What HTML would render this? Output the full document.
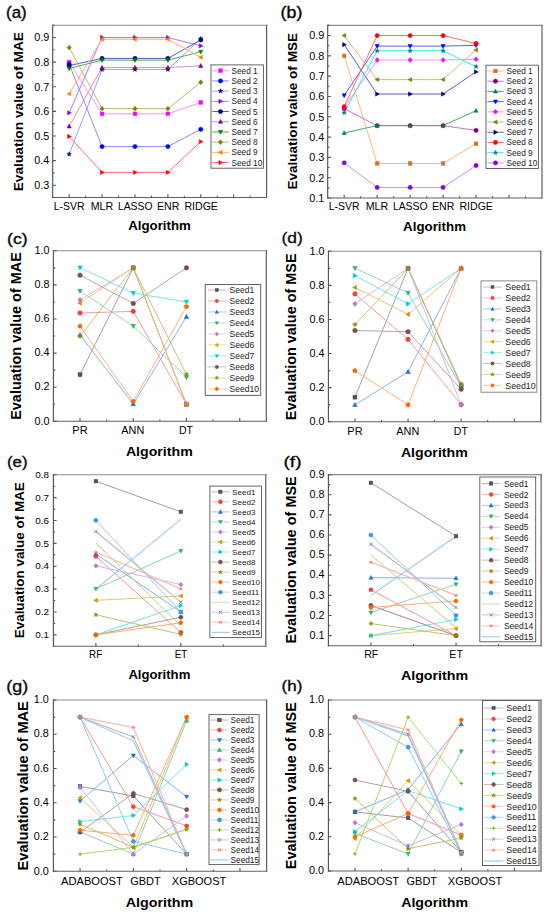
<!DOCTYPE html>
<html><head><meta charset="utf-8"><title>Evaluation values</title>
<style>
html,body{margin:0;padding:0;background:#fff;}
body{width:550px;height:918px;overflow:hidden;}
svg{display:block;font-family:"Liberation Sans", sans-serif;}
</style></head>
<body>
<svg width="550" height="918" viewBox="0 0 550 918">
<rect width="550" height="918" fill="#fff"/>
<polyline points="69.15,62.12 102.06,113.81 134.97,113.81 167.88,113.81 200.78,102.49" fill="none" stroke="#ff90ff" stroke-width="1" stroke-opacity="1"/>
<polyline points="69.15,64.09 102.06,146.55 134.97,146.55 167.88,146.55 200.78,129.32" fill="none" stroke="#8c8cff" stroke-width="1" stroke-opacity="1"/>
<polyline points="69.15,154.18 102.06,69.51 134.97,69.51 167.88,69.51 200.78,38.74" fill="none" stroke="#a0a0ff" stroke-width="1" stroke-opacity="1"/>
<polyline points="69.15,112.83 102.06,37.51 134.97,37.51 167.88,37.51 200.78,45.88" fill="none" stroke="#b878ff" stroke-width="1" stroke-opacity="1"/>
<polyline points="69.15,65.57 102.06,58.43 134.97,58.43 167.88,58.43 200.78,39.97" fill="none" stroke="#5858c8" stroke-width="1" stroke-opacity="1"/>
<polyline points="69.15,126.36 102.06,67.54 134.97,67.54 167.88,67.54 200.78,65.81" fill="none" stroke="#d090d0" stroke-width="1" stroke-opacity="1"/>
<polyline points="69.15,68.52 102.06,60.15 134.97,60.15 167.88,60.15 200.78,51.78" fill="none" stroke="#40b060" stroke-width="1" stroke-opacity="1"/>
<polyline points="69.15,47.6 102.06,108.64 134.97,108.64 167.88,108.64 200.78,82.31" fill="none" stroke="#b8b870" stroke-width="1" stroke-opacity="1"/>
<polyline points="69.15,93.87 102.06,39.23 134.97,39.23 167.88,39.23 200.78,57.2" fill="none" stroke="#ffb060" stroke-width="1" stroke-opacity="1"/>
<polyline points="69.15,136.46 102.06,172.39 134.97,172.39 167.88,172.39 200.78,141.63" fill="none" stroke="#ff7070" stroke-width="1" stroke-opacity="1"/>
<rect x="67.33" y="60.29" width="3.65" height="3.65" fill="#ff00ff" stroke="#ff00ff" stroke-width="0.5"/>
<rect x="100.23" y="111.98" width="3.65" height="3.65" fill="#ff00ff" stroke="#ff00ff" stroke-width="0.5"/>
<rect x="133.14" y="111.98" width="3.65" height="3.65" fill="#ff00ff" stroke="#ff00ff" stroke-width="0.5"/>
<rect x="166.05" y="111.98" width="3.65" height="3.65" fill="#ff00ff" stroke="#ff00ff" stroke-width="0.5"/>
<rect x="198.96" y="100.66" width="3.65" height="3.65" fill="#ff00ff" stroke="#ff00ff" stroke-width="0.5"/>
<circle cx="69.15" cy="64.09" r="2.15" fill="#0000ff" stroke="#0000ff" stroke-width="0.5"/>
<circle cx="102.06" cy="146.55" r="2.15" fill="#0000ff" stroke="#0000ff" stroke-width="0.5"/>
<circle cx="134.97" cy="146.55" r="2.15" fill="#0000ff" stroke="#0000ff" stroke-width="0.5"/>
<circle cx="167.88" cy="146.55" r="2.15" fill="#0000ff" stroke="#0000ff" stroke-width="0.5"/>
<circle cx="200.78" cy="129.32" r="2.15" fill="#0000ff" stroke="#0000ff" stroke-width="0.5"/>
<polygon points="69.15,151.81 69.72,153.4 71.4,153.45 70.07,154.48 70.54,156.09 69.15,155.15 67.76,156.09 68.23,154.48 66.9,153.45 68.59,153.4" fill="#000090" stroke="#000090" stroke-width="0.5"/>
<polygon points="102.06,67.14 102.63,68.72 104.31,68.77 102.98,69.8 103.45,71.42 102.06,70.47 100.67,71.42 101.14,69.8 99.81,68.77 101.49,68.72" fill="#000090" stroke="#000090" stroke-width="0.5"/>
<polygon points="134.97,67.14 135.54,68.72 137.22,68.77 135.89,69.8 136.36,71.42 134.97,70.47 133.58,71.42 134.05,69.8 132.72,68.77 134.4,68.72" fill="#000090" stroke="#000090" stroke-width="0.5"/>
<polygon points="167.88,67.14 168.45,68.72 170.13,68.77 168.8,69.8 169.27,71.42 167.88,70.47 166.49,71.42 166.96,69.8 165.63,68.77 167.31,68.72" fill="#000090" stroke="#000090" stroke-width="0.5"/>
<polygon points="200.78,36.37 201.35,37.96 203.03,38.01 201.7,39.04 202.17,40.65 200.78,39.71 199.39,40.65 199.86,39.04 198.54,38.01 200.22,37.96" fill="#000090" stroke="#000090" stroke-width="0.5"/>
<polygon points="71.41,112.83 67.54,110.68 67.54,114.98" fill="#8000ff" stroke="#8000ff" stroke-width="0.5"/>
<polygon points="104.32,37.51 100.45,35.36 100.45,39.66" fill="#8000ff" stroke="#8000ff" stroke-width="0.5"/>
<polygon points="137.23,37.51 133.36,35.36 133.36,39.66" fill="#8000ff" stroke="#8000ff" stroke-width="0.5"/>
<polygon points="170.13,37.51 166.26,35.36 166.26,39.66" fill="#8000ff" stroke="#8000ff" stroke-width="0.5"/>
<polygon points="203.04,45.88 199.17,43.73 199.17,48.03" fill="#8000ff" stroke="#8000ff" stroke-width="0.5"/>
<circle cx="69.15" cy="65.57" r="2.15" fill="#000080" stroke="#000080" stroke-width="0.5"/>
<circle cx="102.06" cy="58.43" r="2.15" fill="#000080" stroke="#000080" stroke-width="0.5"/>
<circle cx="134.97" cy="58.43" r="2.15" fill="#000080" stroke="#000080" stroke-width="0.5"/>
<circle cx="167.88" cy="58.43" r="2.15" fill="#000080" stroke="#000080" stroke-width="0.5"/>
<circle cx="200.78" cy="39.97" r="2.15" fill="#000080" stroke="#000080" stroke-width="0.5"/>
<polygon points="69.15,124.11 71.3,127.98 67,127.98" fill="#800080" stroke="#800080" stroke-width="0.5"/>
<polygon points="102.06,65.28 104.21,69.15 99.91,69.15" fill="#800080" stroke="#800080" stroke-width="0.5"/>
<polygon points="134.97,65.28 137.12,69.15 132.82,69.15" fill="#800080" stroke="#800080" stroke-width="0.5"/>
<polygon points="167.88,65.28 170.03,69.15 165.73,69.15" fill="#800080" stroke="#800080" stroke-width="0.5"/>
<polygon points="200.78,63.56 202.93,67.43 198.63,67.43" fill="#800080" stroke="#800080" stroke-width="0.5"/>
<polygon points="69.15,70.78 71.3,66.91 67,66.91" fill="#008000" stroke="#008000" stroke-width="0.5"/>
<polygon points="102.06,62.41 104.21,58.54 99.91,58.54" fill="#008000" stroke="#008000" stroke-width="0.5"/>
<polygon points="134.97,62.41 137.12,58.54 132.82,58.54" fill="#008000" stroke="#008000" stroke-width="0.5"/>
<polygon points="167.88,62.41 170.03,58.54 165.73,58.54" fill="#008000" stroke="#008000" stroke-width="0.5"/>
<polygon points="200.78,54.04 202.93,50.17 198.63,50.17" fill="#008000" stroke="#008000" stroke-width="0.5"/>
<polygon points="69.15,45.13 71.3,47.6 69.15,50.07 67,47.6" fill="#808000" stroke="#808000" stroke-width="0.5"/>
<polygon points="102.06,106.17 104.21,108.64 102.06,111.11 99.91,108.64" fill="#808000" stroke="#808000" stroke-width="0.5"/>
<polygon points="134.97,106.17 137.12,108.64 134.97,111.11 132.82,108.64" fill="#808000" stroke="#808000" stroke-width="0.5"/>
<polygon points="167.88,106.17 170.03,108.64 167.88,111.11 165.73,108.64" fill="#808000" stroke="#808000" stroke-width="0.5"/>
<polygon points="200.78,79.83 202.93,82.31 200.78,84.78 198.63,82.31" fill="#808000" stroke="#808000" stroke-width="0.5"/>
<polygon points="66.9,93.87 70.77,91.72 70.77,96.02" fill="#ff8000" stroke="#ff8000" stroke-width="0.5"/>
<polygon points="99.8,39.23 103.67,37.08 103.67,41.38" fill="#ff8000" stroke="#ff8000" stroke-width="0.5"/>
<polygon points="132.71,39.23 136.58,37.08 136.58,41.38" fill="#ff8000" stroke="#ff8000" stroke-width="0.5"/>
<polygon points="165.62,39.23 169.49,37.08 169.49,41.38" fill="#ff8000" stroke="#ff8000" stroke-width="0.5"/>
<polygon points="198.53,57.2 202.4,55.05 202.4,59.35" fill="#ff8000" stroke="#ff8000" stroke-width="0.5"/>
<polygon points="71.41,136.46 67.54,134.31 67.54,138.61" fill="#ff0000" stroke="#ff0000" stroke-width="0.5"/>
<polygon points="104.32,172.39 100.45,170.24 100.45,174.54" fill="#ff0000" stroke="#ff0000" stroke-width="0.5"/>
<polygon points="137.23,172.39 133.36,170.24 133.36,174.54" fill="#ff0000" stroke="#ff0000" stroke-width="0.5"/>
<polygon points="170.13,172.39 166.26,170.24 166.26,174.54" fill="#ff0000" stroke="#ff0000" stroke-width="0.5"/>
<polygon points="203.04,141.63 199.17,139.48 199.17,143.78" fill="#ff0000" stroke="#ff0000" stroke-width="0.5"/>
<path d="M52.15 25.2H267.15" stroke="#8c8c8c" stroke-width="1.1"/>
<path d="M266.6 24.65V198.05" stroke="#505050" stroke-width="1.1"/>
<path d="M52.15 197.5H267.15" stroke="#606060" stroke-width="1.1"/>
<path d="M52.7 24.65V198.05" stroke="#4c4c4c" stroke-width="1.1"/>
<path d="M52.7 185.19h3.2M52.7 160.58h3.2M52.7 135.96h3.2M52.7 111.35h3.2M52.7 86.74h3.2M52.7 62.12h3.2M52.7 37.51h3.2M52.7 172.89h1.8M52.7 148.27h1.8M52.7 123.66h1.8M52.7 99.04h1.8M52.7 74.43h1.8M52.7 49.81h1.8M52.7 25.2h1.8M52.7 197.5h1.8M69.15 197.5v-3.2M102.06 197.5v-3.2M134.97 197.5v-3.2M167.88 197.5v-3.2M200.78 197.5v-3.2M233.69 197.5v-3.2M85.61 197.5v-1.8M118.52 197.5v-1.8M151.42 197.5v-1.8M184.33 197.5v-1.8M217.24 197.5v-1.8M250.15 197.5v-1.8" stroke="#555555" stroke-width="1.1" fill="none"/>
<text x="49.2" y="189.08" font-size="10.8" text-anchor="end">0.3</text>
<text x="49.2" y="164.47" font-size="10.8" text-anchor="end">0.4</text>
<text x="49.2" y="139.85" font-size="10.8" text-anchor="end">0.5</text>
<text x="49.2" y="115.24" font-size="10.8" text-anchor="end">0.6</text>
<text x="49.2" y="90.62" font-size="10.8" text-anchor="end">0.7</text>
<text x="49.2" y="66.01" font-size="10.8" text-anchor="end">0.8</text>
<text x="49.2" y="41.4" font-size="10.8" text-anchor="end">0.9</text>
<text x="69.2" y="209.9" font-size="10.6" text-anchor="middle" textLength="30.8" lengthAdjust="spacingAndGlyphs">L-SVR</text>
<text x="102" y="209.9" font-size="10.6" text-anchor="middle" textLength="22.6" lengthAdjust="spacingAndGlyphs">MLR</text>
<text x="135.2" y="209.9" font-size="10.6" text-anchor="middle" textLength="34.5" lengthAdjust="spacingAndGlyphs">LASSO</text>
<text x="168.2" y="209.9" font-size="10.6" text-anchor="middle" textLength="22.4" lengthAdjust="spacingAndGlyphs">ENR</text>
<text x="201.2" y="209.9" font-size="10.6" text-anchor="middle" textLength="33.4" lengthAdjust="spacingAndGlyphs">RIDGE</text>
<text x="159.55" y="230.3" font-size="13.3" text-anchor="middle" font-weight="bold" textLength="62.7" lengthAdjust="spacingAndGlyphs">Algorithm</text>
<text x="22.6" y="111.65" font-size="13.3" text-anchor="middle" font-weight="bold" textLength="159.3" lengthAdjust="spacingAndGlyphs" transform="rotate(-90 22.6 111.65)">Evaluation value of MAE</text>
<text x="6.1" y="18.1" font-size="15.9" stroke="#1a1a1a" stroke-width="0.4" textLength="20.6" lengthAdjust="spacingAndGlyphs">(a)</text>
<rect x="211" y="64.9" width="52.4" height="103.3" fill="#fff" stroke="#555" stroke-width="0.9"/>
<line x1="212.3" y1="70.7" x2="228.8" y2="70.7" stroke="#ff90ff" stroke-width="1" stroke-opacity="1"/>
<rect x="218.67" y="68.87" width="3.65" height="3.65" fill="#ff00ff" stroke="#ff00ff" stroke-width="0.5"/>
<text x="231.4" y="73.69" font-size="8.3" fill="#222">Seed 1</text>
<line x1="212.3" y1="80.91" x2="228.8" y2="80.91" stroke="#8c8cff" stroke-width="1" stroke-opacity="1"/>
<circle cx="220.5" cy="80.91" r="2.15" fill="#0000ff" stroke="#0000ff" stroke-width="0.5"/>
<text x="231.4" y="83.9" font-size="8.3" fill="#222">Seed 2</text>
<line x1="212.3" y1="91.12" x2="228.8" y2="91.12" stroke="#a0a0ff" stroke-width="1" stroke-opacity="1"/>
<polygon points="220.5,88.76 221.07,90.34 222.75,90.39 221.42,91.42 221.89,93.03 220.5,92.09 219.11,93.03 219.58,91.42 218.25,90.39 219.93,90.34" fill="#000090" stroke="#000090" stroke-width="0.5"/>
<text x="231.4" y="94.11" font-size="8.3" fill="#222">Seed 3</text>
<line x1="212.3" y1="101.33" x2="228.8" y2="101.33" stroke="#b878ff" stroke-width="1" stroke-opacity="1"/>
<polygon points="222.76,101.33 218.89,99.18 218.89,103.48" fill="#8000ff" stroke="#8000ff" stroke-width="0.5"/>
<text x="231.4" y="104.32" font-size="8.3" fill="#222">Seed 4</text>
<line x1="212.3" y1="111.54" x2="228.8" y2="111.54" stroke="#5858c8" stroke-width="1" stroke-opacity="1"/>
<circle cx="220.5" cy="111.54" r="2.15" fill="#000080" stroke="#000080" stroke-width="0.5"/>
<text x="231.4" y="114.53" font-size="8.3" fill="#222">Seed 5</text>
<line x1="212.3" y1="121.75" x2="228.8" y2="121.75" stroke="#d090d0" stroke-width="1" stroke-opacity="1"/>
<polygon points="220.5,119.49 222.65,123.36 218.35,123.36" fill="#800080" stroke="#800080" stroke-width="0.5"/>
<text x="231.4" y="124.74" font-size="8.3" fill="#222">Seed 6</text>
<line x1="212.3" y1="131.96" x2="228.8" y2="131.96" stroke="#40b060" stroke-width="1" stroke-opacity="1"/>
<polygon points="220.5,134.22 222.65,130.35 218.35,130.35" fill="#008000" stroke="#008000" stroke-width="0.5"/>
<text x="231.4" y="134.95" font-size="8.3" fill="#222">Seed 7</text>
<line x1="212.3" y1="142.17" x2="228.8" y2="142.17" stroke="#b8b870" stroke-width="1" stroke-opacity="1"/>
<polygon points="220.5,139.7 222.65,142.17 220.5,144.64 218.35,142.17" fill="#808000" stroke="#808000" stroke-width="0.5"/>
<text x="231.4" y="145.16" font-size="8.3" fill="#222">Seed 8</text>
<line x1="212.3" y1="152.38" x2="228.8" y2="152.38" stroke="#ffb060" stroke-width="1" stroke-opacity="1"/>
<polygon points="218.24,152.38 222.11,150.23 222.11,154.53" fill="#ff8000" stroke="#ff8000" stroke-width="0.5"/>
<text x="231.4" y="155.37" font-size="8.3" fill="#222">Seed 9</text>
<line x1="212.3" y1="162.59" x2="228.8" y2="162.59" stroke="#ff7070" stroke-width="1" stroke-opacity="1"/>
<polygon points="222.76,162.59 218.89,160.44 218.89,164.74" fill="#ff0000" stroke="#ff0000" stroke-width="0.5"/>
<text x="231.4" y="165.58" font-size="8.3" fill="#222">Seed 10</text>
<polyline points="344.18,55.86 377.15,163.48 410.12,163.48 443.09,163.48 476.06,143.78" fill="none" stroke="#ffbb80" stroke-width="1" stroke-opacity="1"/>
<polyline points="344.18,108.65 377.15,125.71 410.12,125.71 443.09,125.71 476.06,130.38" fill="none" stroke="#d070d0" stroke-width="1" stroke-opacity="1"/>
<polyline points="344.18,133.02 377.15,125.51 410.12,125.51 443.09,125.51 476.06,110.68" fill="none" stroke="#40b070" stroke-width="1" stroke-opacity="1"/>
<polyline points="344.18,95.46 377.15,46.11 410.12,46.11 443.09,46.11 476.06,45.3" fill="none" stroke="#6060ff" stroke-width="1" stroke-opacity="1"/>
<polyline points="344.18,107.64 377.15,59.92 410.12,59.92 443.09,59.92 476.06,59.31" fill="none" stroke="#ff90ff" stroke-width="1" stroke-opacity="1"/>
<polyline points="344.18,35.55 377.15,79.62 410.12,79.62 443.09,79.62 476.06,49.97" fill="none" stroke="#c0c080" stroke-width="1" stroke-opacity="1"/>
<polyline points="344.18,44.69 377.15,94.03 410.12,94.03 443.09,94.03 476.06,71.9" fill="none" stroke="#6060b8" stroke-width="1" stroke-opacity="1"/>
<polyline points="344.18,106.62 377.15,35.55 410.12,35.55 443.09,35.55 476.06,43.47" fill="none" stroke="#ff7070" stroke-width="1" stroke-opacity="1"/>
<polyline points="344.18,112.72 377.15,50.78 410.12,50.78 443.09,50.78 476.06,66.62" fill="none" stroke="#30f0f0" stroke-width="1" stroke-opacity="1"/>
<polyline points="344.18,162.87 377.15,187.44 410.12,187.44 443.09,187.44 476.06,165.51" fill="none" stroke="#c890ff" stroke-width="1" stroke-opacity="1"/>
<rect x="342.36" y="54.03" width="3.65" height="3.65" fill="#e07020" stroke="#e07020" stroke-width="0.5"/>
<rect x="375.33" y="161.65" width="3.65" height="3.65" fill="#e07020" stroke="#e07020" stroke-width="0.5"/>
<rect x="408.3" y="161.65" width="3.65" height="3.65" fill="#e07020" stroke="#e07020" stroke-width="0.5"/>
<rect x="441.26" y="161.65" width="3.65" height="3.65" fill="#e07020" stroke="#e07020" stroke-width="0.5"/>
<rect x="474.23" y="141.96" width="3.65" height="3.65" fill="#e07020" stroke="#e07020" stroke-width="0.5"/>
<circle cx="344.18" cy="108.65" r="2.15" fill="#800080" stroke="#800080" stroke-width="0.5"/>
<circle cx="377.15" cy="125.71" r="2.15" fill="#800080" stroke="#800080" stroke-width="0.5"/>
<circle cx="410.12" cy="125.71" r="2.15" fill="#800080" stroke="#800080" stroke-width="0.5"/>
<circle cx="443.09" cy="125.71" r="2.15" fill="#800080" stroke="#800080" stroke-width="0.5"/>
<circle cx="476.06" cy="130.38" r="2.15" fill="#800080" stroke="#800080" stroke-width="0.5"/>
<polygon points="344.18,130.76 346.33,134.63 342.03,134.63" fill="#008040" stroke="#008040" stroke-width="0.5"/>
<polygon points="377.15,123.25 379.3,127.12 375,127.12" fill="#008040" stroke="#008040" stroke-width="0.5"/>
<polygon points="410.12,123.25 412.27,127.12 407.97,127.12" fill="#008040" stroke="#008040" stroke-width="0.5"/>
<polygon points="443.09,123.25 445.24,127.12 440.94,127.12" fill="#008040" stroke="#008040" stroke-width="0.5"/>
<polygon points="476.06,108.43 478.21,112.3 473.91,112.3" fill="#008040" stroke="#008040" stroke-width="0.5"/>
<polygon points="344.18,97.71 346.33,93.84 342.03,93.84" fill="#0000ff" stroke="#0000ff" stroke-width="0.5"/>
<polygon points="377.15,48.37 379.3,44.5 375,44.5" fill="#0000ff" stroke="#0000ff" stroke-width="0.5"/>
<polygon points="410.12,48.37 412.27,44.5 407.97,44.5" fill="#0000ff" stroke="#0000ff" stroke-width="0.5"/>
<polygon points="443.09,48.37 445.24,44.5 440.94,44.5" fill="#0000ff" stroke="#0000ff" stroke-width="0.5"/>
<polygon points="476.06,47.56 478.21,43.69 473.91,43.69" fill="#0000ff" stroke="#0000ff" stroke-width="0.5"/>
<polygon points="344.18,105.17 346.33,107.64 344.18,110.11 342.03,107.64" fill="#ff00ff" stroke="#ff00ff" stroke-width="0.5"/>
<polygon points="377.15,57.45 379.3,59.92 377.15,62.39 375,59.92" fill="#ff00ff" stroke="#ff00ff" stroke-width="0.5"/>
<polygon points="410.12,57.45 412.27,59.92 410.12,62.39 407.97,59.92" fill="#ff00ff" stroke="#ff00ff" stroke-width="0.5"/>
<polygon points="443.09,57.45 445.24,59.92 443.09,62.39 440.94,59.92" fill="#ff00ff" stroke="#ff00ff" stroke-width="0.5"/>
<polygon points="476.06,56.84 478.21,59.31 476.06,61.78 473.91,59.31" fill="#ff00ff" stroke="#ff00ff" stroke-width="0.5"/>
<polygon points="341.93,35.55 345.8,33.4 345.8,37.7" fill="#808000" stroke="#808000" stroke-width="0.5"/>
<polygon points="374.9,79.62 378.77,77.47 378.77,81.77" fill="#808000" stroke="#808000" stroke-width="0.5"/>
<polygon points="407.87,79.62 411.74,77.47 411.74,81.77" fill="#808000" stroke="#808000" stroke-width="0.5"/>
<polygon points="440.83,79.62 444.7,77.47 444.7,81.77" fill="#808000" stroke="#808000" stroke-width="0.5"/>
<polygon points="473.8,49.97 477.67,47.82 477.67,52.12" fill="#808000" stroke="#808000" stroke-width="0.5"/>
<polygon points="346.44,44.69 342.57,42.54 342.57,46.84" fill="#000080" stroke="#000080" stroke-width="0.5"/>
<polygon points="379.41,94.03 375.54,91.88 375.54,96.18" fill="#000080" stroke="#000080" stroke-width="0.5"/>
<polygon points="412.38,94.03 408.51,91.88 408.51,96.18" fill="#000080" stroke="#000080" stroke-width="0.5"/>
<polygon points="445.35,94.03 441.48,91.88 441.48,96.18" fill="#000080" stroke="#000080" stroke-width="0.5"/>
<polygon points="478.32,71.9 474.45,69.75 474.45,74.05" fill="#000080" stroke="#000080" stroke-width="0.5"/>
<circle cx="344.18" cy="106.62" r="2.15" fill="#ff0000" stroke="#ff0000" stroke-width="0.5"/>
<circle cx="377.15" cy="35.55" r="2.15" fill="#ff0000" stroke="#ff0000" stroke-width="0.5"/>
<circle cx="410.12" cy="35.55" r="2.15" fill="#ff0000" stroke="#ff0000" stroke-width="0.5"/>
<circle cx="443.09" cy="35.55" r="2.15" fill="#ff0000" stroke="#ff0000" stroke-width="0.5"/>
<circle cx="476.06" cy="43.47" r="2.15" fill="#ff0000" stroke="#ff0000" stroke-width="0.5"/>
<polygon points="344.18,110.35 344.75,111.93 346.43,111.98 345.1,113.01 345.57,114.63 344.18,113.68 342.79,114.63 343.26,113.01 341.94,111.98 343.62,111.93" fill="#008080" stroke="#008080" stroke-width="0.5"/>
<polygon points="377.15,48.42 377.72,50 379.4,50.05 378.07,51.08 378.54,52.7 377.15,51.75 375.76,52.7 376.23,51.08 374.9,50.05 376.59,50" fill="#008080" stroke="#008080" stroke-width="0.5"/>
<polygon points="410.12,48.42 410.69,50 412.37,50.05 411.04,51.08 411.51,52.7 410.12,51.75 408.73,52.7 409.2,51.08 407.87,50.05 409.55,50" fill="#008080" stroke="#008080" stroke-width="0.5"/>
<polygon points="443.09,48.42 443.66,50 445.34,50.05 444.01,51.08 444.48,52.7 443.09,51.75 441.7,52.7 442.17,51.08 440.84,50.05 442.52,50" fill="#008080" stroke="#008080" stroke-width="0.5"/>
<polygon points="476.06,64.26 476.63,65.84 478.31,65.89 476.98,66.92 477.45,68.53 476.06,67.59 474.67,68.53 475.14,66.92 473.81,65.89 475.49,65.84" fill="#008080" stroke="#008080" stroke-width="0.5"/>
<circle cx="344.18" cy="162.87" r="2.15" fill="#8000ff" stroke="#8000ff" stroke-width="0.5"/>
<circle cx="377.15" cy="187.44" r="2.15" fill="#8000ff" stroke="#8000ff" stroke-width="0.5"/>
<circle cx="410.12" cy="187.44" r="2.15" fill="#8000ff" stroke="#8000ff" stroke-width="0.5"/>
<circle cx="443.09" cy="187.44" r="2.15" fill="#8000ff" stroke="#8000ff" stroke-width="0.5"/>
<circle cx="476.06" cy="165.51" r="2.15" fill="#8000ff" stroke="#8000ff" stroke-width="0.5"/>
<path d="M327.15 25.4H542.55" stroke="#8c8c8c" stroke-width="1.1"/>
<path d="M542 24.85V198.55" stroke="#505050" stroke-width="1.1"/>
<path d="M327.15 198H542.55" stroke="#606060" stroke-width="1.1"/>
<path d="M327.7 24.85V198.55" stroke="#4c4c4c" stroke-width="1.1"/>
<path d="M327.7 198h3.2M327.7 177.69h3.2M327.7 157.39h3.2M327.7 137.08h3.2M327.7 116.78h3.2M327.7 96.47h3.2M327.7 76.16h3.2M327.7 55.86h3.2M327.7 35.55h3.2M327.7 187.85h1.8M327.7 167.54h1.8M327.7 147.24h1.8M327.7 126.93h1.8M327.7 106.62h1.8M327.7 86.32h1.8M327.7 66.01h1.8M327.7 45.71h1.8M327.7 25.4h1.8M344.18 198v-3.2M377.15 198v-3.2M410.12 198v-3.2M443.09 198v-3.2M476.06 198v-3.2M509.03 198v-3.2M360.67 198v-1.8M393.64 198v-1.8M426.61 198v-1.8M459.58 198v-1.8M492.55 198v-1.8M525.52 198v-1.8" stroke="#555555" stroke-width="1.1" fill="none"/>
<text x="324.2" y="201.89" font-size="10.8" text-anchor="end">0.1</text>
<text x="324.2" y="181.58" font-size="10.8" text-anchor="end">0.2</text>
<text x="324.2" y="161.28" font-size="10.8" text-anchor="end">0.3</text>
<text x="324.2" y="140.97" font-size="10.8" text-anchor="end">0.4</text>
<text x="324.2" y="120.66" font-size="10.8" text-anchor="end">0.5</text>
<text x="324.2" y="100.36" font-size="10.8" text-anchor="end">0.6</text>
<text x="324.2" y="80.05" font-size="10.8" text-anchor="end">0.7</text>
<text x="324.2" y="59.75" font-size="10.8" text-anchor="end">0.8</text>
<text x="324.2" y="39.44" font-size="10.8" text-anchor="end">0.9</text>
<text x="344.2" y="209.9" font-size="10.6" text-anchor="middle" textLength="30.8" lengthAdjust="spacingAndGlyphs">L-SVR</text>
<text x="377" y="209.9" font-size="10.6" text-anchor="middle" textLength="22.6" lengthAdjust="spacingAndGlyphs">MLR</text>
<text x="410.2" y="209.9" font-size="10.6" text-anchor="middle" textLength="34.5" lengthAdjust="spacingAndGlyphs">LASSO</text>
<text x="443.2" y="209.9" font-size="10.6" text-anchor="middle" textLength="22.4" lengthAdjust="spacingAndGlyphs">ENR</text>
<text x="476.2" y="209.9" font-size="10.6" text-anchor="middle" textLength="33.4" lengthAdjust="spacingAndGlyphs">RIDGE</text>
<text x="434.55" y="230.5" font-size="13.3" text-anchor="middle" font-weight="bold" textLength="62.9" lengthAdjust="spacingAndGlyphs">Algorithm</text>
<text x="297.4" y="111.3" font-size="13.3" text-anchor="middle" font-weight="bold" textLength="156.6" lengthAdjust="spacingAndGlyphs" transform="rotate(-90 297.4 111.3)">Evaluation value of MSE</text>
<text x="280.6" y="18" font-size="15.6" stroke="#1a1a1a" stroke-width="0.4" textLength="21.7" lengthAdjust="spacingAndGlyphs">(b)</text>
<rect x="486" y="65.2" width="52.4" height="103.3" fill="#fff" stroke="#555" stroke-width="0.9"/>
<line x1="487.5" y1="71" x2="503.7" y2="71" stroke="#ffbb80" stroke-width="1" stroke-opacity="1"/>
<rect x="493.67" y="69.17" width="3.65" height="3.65" fill="#e07020" stroke="#e07020" stroke-width="0.5"/>
<text x="506.4" y="73.99" font-size="8.3" fill="#222">Seed 1</text>
<line x1="487.5" y1="81.21" x2="503.7" y2="81.21" stroke="#d070d0" stroke-width="1" stroke-opacity="1"/>
<circle cx="495.5" cy="81.21" r="2.15" fill="#800080" stroke="#800080" stroke-width="0.5"/>
<text x="506.4" y="84.2" font-size="8.3" fill="#222">Seed 2</text>
<line x1="487.5" y1="91.42" x2="503.7" y2="91.42" stroke="#40b070" stroke-width="1" stroke-opacity="1"/>
<polygon points="495.5,89.16 497.65,93.03 493.35,93.03" fill="#008040" stroke="#008040" stroke-width="0.5"/>
<text x="506.4" y="94.41" font-size="8.3" fill="#222">Seed 3</text>
<line x1="487.5" y1="101.63" x2="503.7" y2="101.63" stroke="#6060ff" stroke-width="1" stroke-opacity="1"/>
<polygon points="495.5,103.89 497.65,100.02 493.35,100.02" fill="#0000ff" stroke="#0000ff" stroke-width="0.5"/>
<text x="506.4" y="104.62" font-size="8.3" fill="#222">Seed 4</text>
<line x1="487.5" y1="111.84" x2="503.7" y2="111.84" stroke="#ff90ff" stroke-width="1" stroke-opacity="1"/>
<polygon points="495.5,109.37 497.65,111.84 495.5,114.31 493.35,111.84" fill="#ff00ff" stroke="#ff00ff" stroke-width="0.5"/>
<text x="506.4" y="114.83" font-size="8.3" fill="#222">Seed 5</text>
<line x1="487.5" y1="122.05" x2="503.7" y2="122.05" stroke="#c0c080" stroke-width="1" stroke-opacity="1"/>
<polygon points="493.24,122.05 497.11,119.9 497.11,124.2" fill="#808000" stroke="#808000" stroke-width="0.5"/>
<text x="506.4" y="125.04" font-size="8.3" fill="#222">Seed 6</text>
<line x1="487.5" y1="132.26" x2="503.7" y2="132.26" stroke="#6060b8" stroke-width="1" stroke-opacity="1"/>
<polygon points="497.76,132.26 493.89,130.11 493.89,134.41" fill="#000080" stroke="#000080" stroke-width="0.5"/>
<text x="506.4" y="135.25" font-size="8.3" fill="#222">Seed 7</text>
<line x1="487.5" y1="142.47" x2="503.7" y2="142.47" stroke="#ff7070" stroke-width="1" stroke-opacity="1"/>
<circle cx="495.5" cy="142.47" r="2.15" fill="#ff0000" stroke="#ff0000" stroke-width="0.5"/>
<text x="506.4" y="145.46" font-size="8.3" fill="#222">Seed 8</text>
<line x1="487.5" y1="152.68" x2="503.7" y2="152.68" stroke="#30f0f0" stroke-width="1" stroke-opacity="1"/>
<polygon points="495.5,150.31 496.07,151.9 497.75,151.95 496.42,152.98 496.89,154.59 495.5,153.65 494.11,154.59 494.58,152.98 493.25,151.95 494.93,151.9" fill="#008080" stroke="#008080" stroke-width="0.5"/>
<text x="506.4" y="155.67" font-size="8.3" fill="#222">Seed 9</text>
<line x1="487.5" y1="162.89" x2="503.7" y2="162.89" stroke="#c890ff" stroke-width="1" stroke-opacity="1"/>
<circle cx="495.5" cy="162.89" r="2.15" fill="#8000ff" stroke="#8000ff" stroke-width="0.5"/>
<text x="506.4" y="165.88" font-size="8.3" fill="#222">Seed 10</text>
<polyline points="80.01,374.58 133.24,267.85 186.46,404.25" fill="none" stroke="#9f9f9f" stroke-width="0.95" stroke-opacity="1"/>
<polyline points="80.01,313.03 133.24,311.33 186.46,404.25" fill="none" stroke="#f79696" stroke-width="0.95" stroke-opacity="1"/>
<polyline points="80.01,334.86 133.24,404.08 186.46,316.78" fill="none" stroke="#81b0ed" stroke-width="0.95" stroke-opacity="1"/>
<polyline points="80.01,291.04 133.24,325.99 186.46,377.31" fill="none" stroke="#91d2ae" stroke-width="0.95" stroke-opacity="1"/>
<polyline points="80.01,299.9 133.24,267.85 186.46,404.25" fill="none" stroke="#d4b4ed" stroke-width="0.95" stroke-opacity="1"/>
<polyline points="80.01,303.14 133.24,267.85 186.46,404.25" fill="none" stroke="#e3c773" stroke-width="0.95" stroke-opacity="1"/>
<polyline points="80.01,267.68 133.24,293.08 186.46,301.95" fill="none" stroke="#73e2e3" stroke-width="0.95" stroke-opacity="1"/>
<polyline points="80.01,275.18 133.24,303.48 186.46,267.85" fill="none" stroke="#b89e9e" stroke-width="0.95" stroke-opacity="1"/>
<polyline points="80.01,336.39 133.24,267.85 186.46,374.41" fill="none" stroke="#c1c173" stroke-width="0.95" stroke-opacity="1"/>
<polyline points="80.01,326.16 133.24,401.52 186.46,306.55" fill="none" stroke="#fdaa73" stroke-width="0.95" stroke-opacity="1"/>
<rect x="78.06" y="372.63" width="3.91" height="3.91" fill="#515151" stroke="#515151" stroke-width="0.5"/>
<rect x="131.28" y="265.9" width="3.91" height="3.91" fill="#515151" stroke="#515151" stroke-width="0.5"/>
<rect x="184.51" y="402.3" width="3.91" height="3.91" fill="#515151" stroke="#515151" stroke-width="0.5"/>
<circle cx="80.01" cy="313.03" r="2.3" fill="#f14040" stroke="#f14040" stroke-width="0.5"/>
<circle cx="133.24" cy="311.33" r="2.3" fill="#f14040" stroke="#f14040" stroke-width="0.5"/>
<circle cx="186.46" cy="404.25" r="2.3" fill="#f14040" stroke="#f14040" stroke-width="0.5"/>
<polygon points="80.01,332.44 82.31,336.58 77.71,336.58" fill="#1a6fdf" stroke="#1a6fdf" stroke-width="0.5"/>
<polygon points="133.24,401.66 135.54,405.8 130.94,405.8" fill="#1a6fdf" stroke="#1a6fdf" stroke-width="0.5"/>
<polygon points="186.46,314.37 188.76,318.51 184.16,318.51" fill="#1a6fdf" stroke="#1a6fdf" stroke-width="0.5"/>
<polygon points="80.01,293.45 82.31,289.31 77.71,289.31" fill="#37ad6b" stroke="#37ad6b" stroke-width="0.5"/>
<polygon points="133.24,328.41 135.54,324.27 130.94,324.27" fill="#37ad6b" stroke="#37ad6b" stroke-width="0.5"/>
<polygon points="186.46,379.73 188.76,375.59 184.16,375.59" fill="#37ad6b" stroke="#37ad6b" stroke-width="0.5"/>
<polygon points="80.01,297.26 82.31,299.9 80.01,302.55 77.71,299.9" fill="#b177de" stroke="#b177de" stroke-width="0.5"/>
<polygon points="133.24,265.21 135.54,267.85 133.24,270.5 130.94,267.85" fill="#b177de" stroke="#b177de" stroke-width="0.5"/>
<polygon points="186.46,401.61 188.76,404.25 186.46,406.89 184.16,404.25" fill="#b177de" stroke="#b177de" stroke-width="0.5"/>
<polygon points="77.6,303.14 81.74,300.84 81.74,305.44" fill="#cc9900" stroke="#cc9900" stroke-width="0.5"/>
<polygon points="130.82,267.85 134.96,265.55 134.96,270.15" fill="#cc9900" stroke="#cc9900" stroke-width="0.5"/>
<polygon points="184.05,404.25 188.19,401.95 188.19,406.55" fill="#cc9900" stroke="#cc9900" stroke-width="0.5"/>
<polygon points="80.01,270.09 82.31,265.95 77.71,265.95" fill="#00cbcc" stroke="#00cbcc" stroke-width="0.5"/>
<polygon points="133.24,295.5 135.54,291.36 130.94,291.36" fill="#00cbcc" stroke="#00cbcc" stroke-width="0.5"/>
<polygon points="186.46,304.37 188.76,300.23 184.16,300.23" fill="#00cbcc" stroke="#00cbcc" stroke-width="0.5"/>
<circle cx="80.01" cy="275.18" r="2.3" fill="#7d4e4e" stroke="#7d4e4e" stroke-width="0.5"/>
<circle cx="133.24" cy="303.48" r="2.3" fill="#7d4e4e" stroke="#7d4e4e" stroke-width="0.5"/>
<circle cx="186.46" cy="267.85" r="2.3" fill="#7d4e4e" stroke="#7d4e4e" stroke-width="0.5"/>
<polygon points="80.01,333.86 80.62,335.55 82.42,335.61 81,336.71 81.5,338.44 80.01,337.43 78.53,338.44 79.03,336.71 77.61,335.61 79.4,335.55" fill="#8e8e00" stroke="#8e8e00" stroke-width="0.5"/>
<polygon points="133.24,265.32 133.85,267.01 135.64,267.07 134.22,268.17 134.72,269.9 133.24,268.89 131.75,269.9 132.25,268.17 130.83,267.07 132.63,267.01" fill="#8e8e00" stroke="#8e8e00" stroke-width="0.5"/>
<polygon points="186.46,371.88 187.07,373.58 188.87,373.63 187.45,374.73 187.95,376.46 186.46,375.45 184.98,376.46 185.48,374.73 184.06,373.63 185.85,373.58" fill="#8e8e00" stroke="#8e8e00" stroke-width="0.5"/>
<polygon points="80.01,323.75 82.31,325.41 81.43,328.11 78.59,328.11 77.72,325.41" fill="#fb6501" stroke="#fb6501" stroke-width="0.5"/>
<polygon points="133.24,399.11 135.53,400.78 134.66,403.48 131.82,403.48 130.94,400.78" fill="#fb6501" stroke="#fb6501" stroke-width="0.5"/>
<polygon points="186.46,304.14 188.76,305.81 187.88,308.51 185.04,308.51 184.17,305.81" fill="#fb6501" stroke="#fb6501" stroke-width="0.5"/>
<path d="M52.85 250.8H266.85" stroke="#8c8c8c" stroke-width="1.1"/>
<path d="M266.3 250.25V421.85" stroke="#505050" stroke-width="1.1"/>
<path d="M52.85 421.3H266.85" stroke="#606060" stroke-width="1.1"/>
<path d="M53.4 250.25V421.85" stroke="#4c4c4c" stroke-width="1.1"/>
<path d="M53.4 421.3h3.2M53.4 387.2h3.2M53.4 353.1h3.2M53.4 319h3.2M53.4 284.9h3.2M53.4 250.8h3.2M53.4 404.25h1.8M53.4 370.15h1.8M53.4 336.05h1.8M53.4 301.95h1.8M53.4 267.85h1.8M80.01 421.3v-3.2M133.24 421.3v-3.2M186.46 421.3v-3.2M239.69 421.3v-3.2M106.62 421.3v-1.8M159.85 421.3v-1.8M213.08 421.3v-1.8" stroke="#555555" stroke-width="1.1" fill="none"/>
<text x="49.4" y="424.5" font-size="10.8" text-anchor="end">0.0</text>
<text x="49.4" y="390.4" font-size="10.8" text-anchor="end">0.2</text>
<text x="49.4" y="356.3" font-size="10.8" text-anchor="end">0.4</text>
<text x="49.4" y="322.2" font-size="10.8" text-anchor="end">0.6</text>
<text x="49.4" y="288.1" font-size="10.8" text-anchor="end">0.8</text>
<text x="49.4" y="254" font-size="10.8" text-anchor="end">1.0</text>
<text x="80" y="434.1" font-size="10.6" text-anchor="middle" textLength="15.3" lengthAdjust="spacingAndGlyphs">PR</text>
<text x="132.8" y="434.1" font-size="10.6" text-anchor="middle" textLength="22.9" lengthAdjust="spacingAndGlyphs">ANN</text>
<text x="186" y="434.1" font-size="10.6" text-anchor="middle" textLength="14" lengthAdjust="spacingAndGlyphs">DT</text>
<text x="159.35" y="455.9" font-size="13.3" text-anchor="middle" font-weight="bold" textLength="66.9" lengthAdjust="spacingAndGlyphs">Algorithm</text>
<text x="21" y="336" font-size="14.4" text-anchor="middle" font-weight="bold" textLength="167.6" lengthAdjust="spacingAndGlyphs" transform="rotate(-90 21 336)">Evaluation value of MAE</text>
<text x="7" y="243.5" font-size="15.4" stroke="#1a1a1a" stroke-width="0.4" textLength="20.6" lengthAdjust="spacingAndGlyphs">(c)</text>
<rect x="205.2" y="284.5" width="55.5" height="110.9" fill="#fff" stroke="#555" stroke-width="0.9"/>
<line x1="207.4" y1="290" x2="226.3" y2="290" stroke="#9f9f9f" stroke-width="0.95" stroke-opacity="0.7"/>
<rect x="215.33" y="288.53" width="2.93" height="2.93" fill="#515151" stroke="#515151" stroke-width="0.5"/>
<text x="229.6" y="293.06" font-size="8.5" fill="#222">Seed1</text>
<line x1="207.4" y1="300.99" x2="226.3" y2="300.99" stroke="#f79696" stroke-width="0.95" stroke-opacity="0.7"/>
<circle cx="216.8" cy="300.99" r="1.72" fill="#f14040" stroke="#f14040" stroke-width="0.5"/>
<text x="229.6" y="304.05" font-size="8.5" fill="#222">Seed2</text>
<line x1="207.4" y1="311.98" x2="226.3" y2="311.98" stroke="#81b0ed" stroke-width="0.95" stroke-opacity="0.7"/>
<polygon points="216.8,310.17 218.53,313.27 215.08,313.27" fill="#1a6fdf" stroke="#1a6fdf" stroke-width="0.5"/>
<text x="229.6" y="315.04" font-size="8.5" fill="#222">Seed3</text>
<line x1="207.4" y1="322.97" x2="226.3" y2="322.97" stroke="#91d2ae" stroke-width="0.95" stroke-opacity="0.7"/>
<polygon points="216.8,324.78 218.53,321.68 215.08,321.68" fill="#37ad6b" stroke="#37ad6b" stroke-width="0.5"/>
<text x="229.6" y="326.03" font-size="8.5" fill="#222">Seed4</text>
<line x1="207.4" y1="333.96" x2="226.3" y2="333.96" stroke="#d4b4ed" stroke-width="0.95" stroke-opacity="0.7"/>
<polygon points="216.8,331.98 218.53,333.96 216.8,335.94 215.08,333.96" fill="#b177de" stroke="#b177de" stroke-width="0.5"/>
<text x="229.6" y="337.02" font-size="8.5" fill="#222">Seed5</text>
<line x1="207.4" y1="344.95" x2="226.3" y2="344.95" stroke="#e3c773" stroke-width="0.95" stroke-opacity="0.7"/>
<polygon points="214.99,344.95 218.09,343.22 218.09,346.68" fill="#cc9900" stroke="#cc9900" stroke-width="0.5"/>
<text x="229.6" y="348.01" font-size="8.5" fill="#222">Seed6</text>
<line x1="207.4" y1="355.94" x2="226.3" y2="355.94" stroke="#73e2e3" stroke-width="0.95" stroke-opacity="0.7"/>
<polygon points="216.8,357.75 218.53,354.65 215.08,354.65" fill="#00cbcc" stroke="#00cbcc" stroke-width="0.5"/>
<text x="229.6" y="359" font-size="8.5" fill="#222">Seed7</text>
<line x1="207.4" y1="366.93" x2="226.3" y2="366.93" stroke="#b89e9e" stroke-width="0.95" stroke-opacity="0.7"/>
<circle cx="216.8" cy="366.93" r="1.72" fill="#7d4e4e" stroke="#7d4e4e" stroke-width="0.5"/>
<text x="229.6" y="369.99" font-size="8.5" fill="#222">Seed8</text>
<line x1="207.4" y1="377.92" x2="226.3" y2="377.92" stroke="#c1c173" stroke-width="0.95" stroke-opacity="0.7"/>
<polygon points="216.8,376.02 217.26,377.29 218.6,377.33 217.54,378.16 217.92,379.46 216.8,378.7 215.68,379.46 216.06,378.16 215,377.33 216.34,377.29" fill="#8e8e00" stroke="#8e8e00" stroke-width="0.5"/>
<text x="229.6" y="380.98" font-size="8.5" fill="#222">Seed9</text>
<line x1="207.4" y1="388.91" x2="226.3" y2="388.91" stroke="#fdaa73" stroke-width="0.95" stroke-opacity="0.7"/>
<polygon points="216.8,387.1 218.52,388.35 217.86,390.38 215.74,390.38 215.08,388.35" fill="#fb6501" stroke="#fb6501" stroke-width="0.5"/>
<text x="229.6" y="391.97" font-size="8.5" fill="#222">Seed10</text>
<polyline points="354.95,397.16 408.05,268.34 461.15,385.92" fill="none" stroke="#9f9f9f" stroke-width="0.95" stroke-opacity="1"/>
<polyline points="354.95,293.9 408.05,339.4 461.15,404.66" fill="none" stroke="#f79696" stroke-width="0.95" stroke-opacity="1"/>
<polyline points="354.95,404.83 408.05,371.77 461.15,268.34" fill="none" stroke="#81b0ed" stroke-width="0.95" stroke-opacity="1"/>
<polyline points="354.95,268.17 408.05,292.88 461.15,386.77" fill="none" stroke="#91d2ae" stroke-width="0.95" stroke-opacity="1"/>
<polyline points="354.95,303.78 408.05,268.34 461.15,404.66" fill="none" stroke="#d4b4ed" stroke-width="0.95" stroke-opacity="1"/>
<polyline points="354.95,287.42 408.05,314.35 461.15,268.34" fill="none" stroke="#e3c773" stroke-width="0.95" stroke-opacity="1"/>
<polyline points="354.95,275.67 408.05,303.78 461.15,268.34" fill="none" stroke="#73e2e3" stroke-width="0.95" stroke-opacity="1"/>
<polyline points="354.95,330.54 408.05,331.73 461.15,389.32" fill="none" stroke="#b89e9e" stroke-width="0.95" stroke-opacity="1"/>
<polyline points="354.95,324.57 408.05,268.34 461.15,383.87" fill="none" stroke="#c1c173" stroke-width="0.95" stroke-opacity="1"/>
<polyline points="354.95,370.75 408.05,404.83 461.15,268.34" fill="none" stroke="#fdaa73" stroke-width="0.95" stroke-opacity="1"/>
<rect x="353" y="395.21" width="3.91" height="3.91" fill="#515151" stroke="#515151" stroke-width="0.5"/>
<rect x="406.09" y="266.39" width="3.91" height="3.91" fill="#515151" stroke="#515151" stroke-width="0.5"/>
<rect x="459.19" y="383.96" width="3.91" height="3.91" fill="#515151" stroke="#515151" stroke-width="0.5"/>
<circle cx="354.95" cy="293.9" r="2.3" fill="#f14040" stroke="#f14040" stroke-width="0.5"/>
<circle cx="408.05" cy="339.4" r="2.3" fill="#f14040" stroke="#f14040" stroke-width="0.5"/>
<circle cx="461.15" cy="404.66" r="2.3" fill="#f14040" stroke="#f14040" stroke-width="0.5"/>
<polygon points="354.95,402.42 357.25,406.56 352.65,406.56" fill="#1a6fdf" stroke="#1a6fdf" stroke-width="0.5"/>
<polygon points="408.05,369.36 410.35,373.5 405.75,373.5" fill="#1a6fdf" stroke="#1a6fdf" stroke-width="0.5"/>
<polygon points="461.15,265.93 463.45,270.07 458.85,270.07" fill="#1a6fdf" stroke="#1a6fdf" stroke-width="0.5"/>
<polygon points="354.95,270.58 357.25,266.44 352.65,266.44" fill="#37ad6b" stroke="#37ad6b" stroke-width="0.5"/>
<polygon points="408.05,295.29 410.35,291.15 405.75,291.15" fill="#37ad6b" stroke="#37ad6b" stroke-width="0.5"/>
<polygon points="461.15,389.18 463.45,385.04 458.85,385.04" fill="#37ad6b" stroke="#37ad6b" stroke-width="0.5"/>
<polygon points="354.95,301.14 357.25,303.78 354.95,306.43 352.65,303.78" fill="#b177de" stroke="#b177de" stroke-width="0.5"/>
<polygon points="408.05,265.7 410.35,268.34 408.05,270.99 405.75,268.34" fill="#b177de" stroke="#b177de" stroke-width="0.5"/>
<polygon points="461.15,402.01 463.45,404.66 461.15,407.3 458.85,404.66" fill="#b177de" stroke="#b177de" stroke-width="0.5"/>
<polygon points="352.53,287.42 356.68,285.12 356.68,289.72" fill="#cc9900" stroke="#cc9900" stroke-width="0.5"/>
<polygon points="405.63,314.35 409.77,312.05 409.77,316.65" fill="#cc9900" stroke="#cc9900" stroke-width="0.5"/>
<polygon points="458.73,268.34 462.88,266.04 462.88,270.64" fill="#cc9900" stroke="#cc9900" stroke-width="0.5"/>
<polygon points="357.37,275.67 353.22,273.37 353.22,277.97" fill="#00cbcc" stroke="#00cbcc" stroke-width="0.5"/>
<polygon points="410.46,303.78 406.32,301.48 406.32,306.08" fill="#00cbcc" stroke="#00cbcc" stroke-width="0.5"/>
<polygon points="463.56,268.34 459.42,266.04 459.42,270.64" fill="#00cbcc" stroke="#00cbcc" stroke-width="0.5"/>
<circle cx="354.95" cy="330.54" r="2.3" fill="#7d4e4e" stroke="#7d4e4e" stroke-width="0.5"/>
<circle cx="408.05" cy="331.73" r="2.3" fill="#7d4e4e" stroke="#7d4e4e" stroke-width="0.5"/>
<circle cx="461.15" cy="389.32" r="2.3" fill="#7d4e4e" stroke="#7d4e4e" stroke-width="0.5"/>
<polygon points="354.95,322.04 355.56,323.73 357.36,323.79 355.93,324.89 356.44,326.62 354.95,325.61 353.46,326.62 353.97,324.89 352.54,323.79 354.34,323.73" fill="#8e8e00" stroke="#8e8e00" stroke-width="0.5"/>
<polygon points="408.05,265.81 408.66,267.5 410.46,267.56 409.03,268.66 409.54,270.39 408.05,269.38 406.56,270.39 407.07,268.66 405.64,267.56 407.44,267.5" fill="#8e8e00" stroke="#8e8e00" stroke-width="0.5"/>
<polygon points="461.15,381.34 461.76,383.03 463.56,383.09 462.13,384.19 462.64,385.92 461.15,384.91 459.66,385.92 460.17,384.19 458.74,383.09 460.54,383.03" fill="#8e8e00" stroke="#8e8e00" stroke-width="0.5"/>
<polygon points="354.95,368.34 357.25,370 356.37,372.7 353.53,372.7 352.65,370" fill="#fb6501" stroke="#fb6501" stroke-width="0.5"/>
<polygon points="408.05,402.42 410.35,404.08 409.47,406.78 406.63,406.78 405.75,404.08" fill="#fb6501" stroke="#fb6501" stroke-width="0.5"/>
<polygon points="461.15,265.93 463.45,267.59 462.57,270.29 459.73,270.29 458.85,267.59" fill="#fb6501" stroke="#fb6501" stroke-width="0.5"/>
<path d="M327.85 251.3H541.35" stroke="#8c8c8c" stroke-width="1.1"/>
<path d="M540.8 250.75V422.25" stroke="#505050" stroke-width="1.1"/>
<path d="M327.85 421.7H541.35" stroke="#606060" stroke-width="1.1"/>
<path d="M328.4 250.75V422.25" stroke="#4c4c4c" stroke-width="1.1"/>
<path d="M328.4 421.7h3.2M328.4 387.62h3.2M328.4 353.54h3.2M328.4 319.46h3.2M328.4 285.38h3.2M328.4 251.3h3.2M328.4 404.66h1.8M328.4 370.58h1.8M328.4 336.5h1.8M328.4 302.42h1.8M328.4 268.34h1.8M354.95 421.7v-3.2M408.05 421.7v-3.2M461.15 421.7v-3.2M514.25 421.7v-3.2M381.5 421.7v-1.8M434.6 421.7v-1.8M487.7 421.7v-1.8" stroke="#555555" stroke-width="1.1" fill="none"/>
<text x="324.4" y="424.9" font-size="10.8" text-anchor="end">0.0</text>
<text x="324.4" y="390.82" font-size="10.8" text-anchor="end">0.2</text>
<text x="324.4" y="356.74" font-size="10.8" text-anchor="end">0.4</text>
<text x="324.4" y="322.66" font-size="10.8" text-anchor="end">0.6</text>
<text x="324.4" y="288.58" font-size="10.8" text-anchor="end">0.8</text>
<text x="324.4" y="254.5" font-size="10.8" text-anchor="end">1.0</text>
<text x="355" y="435.2" font-size="10.6" text-anchor="middle" textLength="15.3" lengthAdjust="spacingAndGlyphs">PR</text>
<text x="407.8" y="435.2" font-size="10.6" text-anchor="middle" textLength="22.9" lengthAdjust="spacingAndGlyphs">ANN</text>
<text x="460.8" y="435.2" font-size="10.6" text-anchor="middle" textLength="14" lengthAdjust="spacingAndGlyphs">DT</text>
<text x="434.35" y="456.7" font-size="13.5" text-anchor="middle" font-weight="bold" textLength="66.9" lengthAdjust="spacingAndGlyphs">Algorithm</text>
<text x="295.9" y="336.8" font-size="14.4" text-anchor="middle" font-weight="bold" textLength="166.8" lengthAdjust="spacingAndGlyphs" transform="rotate(-90 295.9 336.8)">Evaluation value of MSE</text>
<text x="281.5" y="243.1" font-size="15.2" stroke="#1a1a1a" stroke-width="0.3" textLength="21.3" lengthAdjust="spacingAndGlyphs">(d)</text>
<rect x="481" y="280.9" width="55.8" height="111.3" fill="#fff" stroke="#708080" stroke-width="0.9"/>
<line x1="483" y1="287.1" x2="502" y2="287.1" stroke="#9f9f9f" stroke-width="0.95" stroke-opacity="0.7"/>
<rect x="491.03" y="285.63" width="2.93" height="2.93" fill="#515151" stroke="#515151" stroke-width="0.5"/>
<text x="505.3" y="290.27" font-size="8.8" fill="#222">Seed1</text>
<line x1="483" y1="298.02" x2="502" y2="298.02" stroke="#f79696" stroke-width="0.95" stroke-opacity="0.7"/>
<circle cx="492.5" cy="298.02" r="1.72" fill="#f14040" stroke="#f14040" stroke-width="0.5"/>
<text x="505.3" y="301.19" font-size="8.8" fill="#222">Seed2</text>
<line x1="483" y1="308.94" x2="502" y2="308.94" stroke="#81b0ed" stroke-width="0.95" stroke-opacity="0.7"/>
<polygon points="492.5,307.13 494.23,310.23 490.77,310.23" fill="#1a6fdf" stroke="#1a6fdf" stroke-width="0.5"/>
<text x="505.3" y="312.11" font-size="8.8" fill="#222">Seed3</text>
<line x1="483" y1="319.86" x2="502" y2="319.86" stroke="#91d2ae" stroke-width="0.95" stroke-opacity="0.7"/>
<polygon points="492.5,321.67 494.23,318.57 490.77,318.57" fill="#37ad6b" stroke="#37ad6b" stroke-width="0.5"/>
<text x="505.3" y="323.03" font-size="8.8" fill="#222">Seed4</text>
<line x1="483" y1="330.78" x2="502" y2="330.78" stroke="#d4b4ed" stroke-width="0.95" stroke-opacity="0.7"/>
<polygon points="492.5,328.8 494.23,330.78 492.5,332.76 490.77,330.78" fill="#b177de" stroke="#b177de" stroke-width="0.5"/>
<text x="505.3" y="333.95" font-size="8.8" fill="#222">Seed5</text>
<line x1="483" y1="341.7" x2="502" y2="341.7" stroke="#e3c773" stroke-width="0.95" stroke-opacity="0.7"/>
<polygon points="490.69,341.7 493.79,339.98 493.79,343.43" fill="#cc9900" stroke="#cc9900" stroke-width="0.5"/>
<text x="505.3" y="344.87" font-size="8.8" fill="#222">Seed6</text>
<line x1="483" y1="352.62" x2="502" y2="352.62" stroke="#73e2e3" stroke-width="0.95" stroke-opacity="0.7"/>
<polygon points="494.31,352.62 491.21,350.89 491.21,354.35" fill="#00cbcc" stroke="#00cbcc" stroke-width="0.5"/>
<text x="505.3" y="355.79" font-size="8.8" fill="#222">Seed7</text>
<line x1="483" y1="363.54" x2="502" y2="363.54" stroke="#b89e9e" stroke-width="0.95" stroke-opacity="0.7"/>
<circle cx="492.5" cy="363.54" r="1.72" fill="#7d4e4e" stroke="#7d4e4e" stroke-width="0.5"/>
<text x="505.3" y="366.71" font-size="8.8" fill="#222">Seed8</text>
<line x1="483" y1="374.46" x2="502" y2="374.46" stroke="#c1c173" stroke-width="0.95" stroke-opacity="0.7"/>
<polygon points="492.5,372.56 492.96,373.83 494.3,373.87 493.24,374.7 493.62,376 492.5,375.24 491.38,376 491.76,374.7 490.7,373.87 492.04,373.83" fill="#8e8e00" stroke="#8e8e00" stroke-width="0.5"/>
<text x="505.3" y="377.63" font-size="8.8" fill="#222">Seed9</text>
<line x1="483" y1="385.38" x2="502" y2="385.38" stroke="#fdaa73" stroke-width="0.95" stroke-opacity="0.7"/>
<polygon points="492.5,383.57 494.22,384.82 493.56,386.85 491.44,386.85 490.78,384.82" fill="#fb6501" stroke="#fb6501" stroke-width="0.5"/>
<text x="505.3" y="388.55" font-size="8.8" fill="#222">Seed10</text>
<polyline points="95.88,481.2 180.84,511.84" fill="none" stroke="#9a9a9a" stroke-width="0.95" stroke-opacity="1"/>
<polyline points="95.88,556.43 180.84,632.35" fill="none" stroke="#f79090" stroke-width="0.95" stroke-opacity="1"/>
<polyline points="95.88,553.92 180.84,612" fill="none" stroke="#7aabec" stroke-width="0.95" stroke-opacity="1"/>
<polyline points="95.88,588.9 180.84,550.95" fill="none" stroke="#8bcfa9" stroke-width="0.95" stroke-opacity="1"/>
<polyline points="95.88,565.81 180.84,584.56" fill="none" stroke="#d2b0ec" stroke-width="0.95" stroke-opacity="1"/>
<polyline points="95.88,600.34 180.84,595.99" fill="none" stroke="#e1c46b" stroke-width="0.95" stroke-opacity="1"/>
<polyline points="95.88,634.87 180.84,605.6" fill="none" stroke="#6be1e1" stroke-width="0.95" stroke-opacity="1"/>
<polyline points="95.88,634.87 180.84,617.26" fill="none" stroke="#b49898" stroke-width="0.95" stroke-opacity="1"/>
<polyline points="95.88,614.74 180.84,634.41" fill="none" stroke="#bdbd6b" stroke-width="0.95" stroke-opacity="1"/>
<polyline points="95.88,634.87 180.84,622.75" fill="none" stroke="#fda66c" stroke-width="0.95" stroke-opacity="1"/>
<polyline points="95.88,520.3 180.84,612" fill="none" stroke="#8ec4ec" stroke-width="0.95" stroke-opacity="1"/>
<polyline points="95.88,542.94 180.84,625.72" fill="none" stroke="#abd66c" stroke-width="0.95" stroke-opacity="1"/>
<polyline points="95.88,531.51 180.84,602.17" fill="none" stroke="#bbbbbb" stroke-width="1.1" stroke-opacity="1"/>
<polyline points="95.88,552.09 180.84,588.9" fill="none" stroke="#fcb5ac" stroke-width="1.1" stroke-opacity="1"/>
<polyline points="95.88,589.13 180.84,519.39" fill="none" stroke="#96c8f6" stroke-width="1.1" stroke-opacity="1"/>
<rect x="94.09" y="479.42" width="3.57" height="3.57" fill="#515151" stroke="#515151" stroke-width="0.5"/>
<rect x="179.06" y="510.06" width="3.57" height="3.57" fill="#515151" stroke="#515151" stroke-width="0.5"/>
<circle cx="95.88" cy="556.43" r="2.1" fill="#f14040" stroke="#f14040" stroke-width="0.5"/>
<circle cx="180.84" cy="632.35" r="2.1" fill="#f14040" stroke="#f14040" stroke-width="0.5"/>
<polygon points="95.88,551.71 97.98,555.49 93.78,555.49" fill="#1a6fdf" stroke="#1a6fdf" stroke-width="0.5"/>
<polygon points="180.84,609.79 182.94,613.58 178.74,613.58" fill="#1a6fdf" stroke="#1a6fdf" stroke-width="0.5"/>
<polygon points="95.88,591.11 97.98,587.33 93.78,587.33" fill="#37ad6b" stroke="#37ad6b" stroke-width="0.5"/>
<polygon points="180.84,553.15 182.94,549.37 178.74,549.37" fill="#37ad6b" stroke="#37ad6b" stroke-width="0.5"/>
<polygon points="95.88,563.39 97.98,565.81 95.88,568.22 93.78,565.81" fill="#b177de" stroke="#b177de" stroke-width="0.5"/>
<polygon points="180.84,582.14 182.94,584.56 180.84,586.97 178.74,584.56" fill="#b177de" stroke="#b177de" stroke-width="0.5"/>
<polygon points="93.67,600.34 97.45,598.24 97.45,602.44" fill="#cc9900" stroke="#cc9900" stroke-width="0.5"/>
<polygon points="178.63,595.99 182.41,593.89 182.41,598.09" fill="#cc9900" stroke="#cc9900" stroke-width="0.5"/>
<polygon points="98.08,634.87 94.3,632.77 94.3,636.97" fill="#00cbcc" stroke="#00cbcc" stroke-width="0.5"/>
<polygon points="183.05,605.6 179.27,603.5 179.27,607.7" fill="#00cbcc" stroke="#00cbcc" stroke-width="0.5"/>
<circle cx="95.88" cy="634.87" r="2.1" fill="#7d4e4e" stroke="#7d4e4e" stroke-width="0.5"/>
<circle cx="180.84" cy="617.26" r="2.1" fill="#7d4e4e" stroke="#7d4e4e" stroke-width="0.5"/>
<polygon points="95.88,612.43 96.44,613.98 98.08,614.03 96.78,615.04 97.24,616.61 95.88,615.69 94.52,616.61 94.98,615.04 93.68,614.03 95.32,613.98" fill="#8e8e00" stroke="#8e8e00" stroke-width="0.5"/>
<polygon points="180.84,632.1 181.4,633.64 183.04,633.7 181.74,634.7 182.2,636.28 180.84,635.35 179.48,636.28 179.94,634.7 178.64,633.7 180.28,633.64" fill="#8e8e00" stroke="#8e8e00" stroke-width="0.5"/>
<polygon points="95.88,632.66 97.98,634.19 97.18,636.65 94.58,636.65 93.78,634.19" fill="#fb6501" stroke="#fb6501" stroke-width="0.5"/>
<polygon points="180.84,620.54 182.94,622.07 182.14,624.53 179.54,624.53 178.74,622.07" fill="#fb6501" stroke="#fb6501" stroke-width="0.5"/>
<circle cx="95.88" cy="520.3" r="2.1" fill="#3d9ade" stroke="#3d9ade" stroke-width="0.5"/>
<circle cx="180.84" cy="612" r="2.1" fill="#3d9ade" stroke="#3d9ade" stroke-width="0.5"/>


<path d="M94.2 529.83L97.56 533.19M94.2 533.19L97.56 529.83" stroke="#8a8a8a" stroke-width="1" fill="none"/>
<path d="M179.16 600.49L182.52 603.85M179.16 603.85L182.52 600.49" stroke="#8a8a8a" stroke-width="1" fill="none"/>
<path d="M93.99 552.09L97.77 552.09M94.75 550.58L97.01 553.6M94.75 553.6L97.01 550.58" stroke="#f98070" stroke-width="0.9" fill="none"/>
<path d="M178.95 588.9L182.73 588.9M179.71 587.39L181.97 590.42M179.71 590.42L181.97 587.39" stroke="#f98070" stroke-width="0.9" fill="none"/>


<path d="M52.85 474.8H266.35" stroke="#8c8c8c" stroke-width="1.1"/>
<path d="M265.8 474.25V646.85" stroke="#505050" stroke-width="1.1"/>
<path d="M52.85 646.3H266.35" stroke="#606060" stroke-width="1.1"/>
<path d="M53.4 474.25V646.85" stroke="#4c4c4c" stroke-width="1.1"/>
<path d="M53.4 634.87h3.2M53.4 612h3.2M53.4 589.13h3.2M53.4 566.27h3.2M53.4 543.4h3.2M53.4 520.53h3.2M53.4 497.67h3.2M53.4 474.8h3.2M53.4 623.43h1.8M53.4 600.57h1.8M53.4 577.7h1.8M53.4 554.83h1.8M53.4 531.97h1.8M53.4 509.1h1.8M53.4 486.23h1.8M95.88 646.3v-3.2M180.84 646.3v-3.2M138.36 646.3v-1.8M223.32 646.3v-1.8" stroke="#555555" stroke-width="1.1" fill="none"/>
<text x="49" y="638.07" font-size="9.9" text-anchor="end">0.1</text>
<text x="49" y="615.2" font-size="9.9" text-anchor="end">0.2</text>
<text x="49" y="592.33" font-size="9.9" text-anchor="end">0.3</text>
<text x="49" y="569.47" font-size="9.9" text-anchor="end">0.4</text>
<text x="49" y="546.6" font-size="9.9" text-anchor="end">0.5</text>
<text x="49" y="523.73" font-size="9.9" text-anchor="end">0.6</text>
<text x="49" y="500.87" font-size="9.9" text-anchor="end">0.7</text>
<text x="49" y="478" font-size="9.9" text-anchor="end">0.8</text>
<text x="95.6" y="657.9" font-size="10.4" text-anchor="middle" textLength="13.2" lengthAdjust="spacingAndGlyphs">RF</text>
<text x="181.1" y="657.9" font-size="10.4" text-anchor="middle" textLength="12.6" lengthAdjust="spacingAndGlyphs">ET</text>
<text x="159.35" y="679.3" font-size="13.5" text-anchor="middle" font-weight="bold" textLength="61.9" lengthAdjust="spacingAndGlyphs">Algorithm</text>
<text x="23.6" y="560.25" font-size="13.6" text-anchor="middle" font-weight="bold" textLength="156.1" lengthAdjust="spacingAndGlyphs" transform="rotate(-90 23.6 560.25)">Evaluation value of MAE</text>
<text x="6.9" y="466.8" font-size="15" stroke="#1a1a1a" stroke-width="0.35" textLength="20.7" lengthAdjust="spacingAndGlyphs">(e)</text>
<rect x="209.9" y="486.1" width="51.6" height="151.5" fill="#fff" stroke="#555" stroke-width="0.9"/>
<line x1="211.5" y1="491.8" x2="229.6" y2="491.8" stroke="#9a9a9a" stroke-width="0.95" stroke-opacity="0.7"/>
<rect x="218.7" y="490.1" width="3.39" height="3.39" fill="#515151" stroke="#515151" stroke-width="0.5"/>
<text x="232" y="494.72" font-size="8.1" fill="#222">Seed1</text>
<line x1="211.5" y1="501.84" x2="229.6" y2="501.84" stroke="#f79090" stroke-width="0.95" stroke-opacity="0.7"/>
<circle cx="220.4" cy="501.84" r="1.99" fill="#f14040" stroke="#f14040" stroke-width="0.5"/>
<text x="232" y="504.76" font-size="8.1" fill="#222">Seed2</text>
<line x1="211.5" y1="511.88" x2="229.6" y2="511.88" stroke="#7aabec" stroke-width="0.95" stroke-opacity="0.7"/>
<polygon points="220.4,509.79 222.4,513.38 218.41,513.38" fill="#1a6fdf" stroke="#1a6fdf" stroke-width="0.5"/>
<text x="232" y="514.8" font-size="8.1" fill="#222">Seed3</text>
<line x1="211.5" y1="521.92" x2="229.6" y2="521.92" stroke="#8bcfa9" stroke-width="0.95" stroke-opacity="0.7"/>
<polygon points="220.4,524.01 222.4,520.42 218.41,520.42" fill="#37ad6b" stroke="#37ad6b" stroke-width="0.5"/>
<text x="232" y="524.84" font-size="8.1" fill="#222">Seed4</text>
<line x1="211.5" y1="531.96" x2="229.6" y2="531.96" stroke="#d2b0ec" stroke-width="0.95" stroke-opacity="0.7"/>
<polygon points="220.4,529.67 222.4,531.96 220.4,534.25 218.41,531.96" fill="#b177de" stroke="#b177de" stroke-width="0.5"/>
<text x="232" y="534.88" font-size="8.1" fill="#222">Seed5</text>
<line x1="211.5" y1="542" x2="229.6" y2="542" stroke="#e1c46b" stroke-width="0.95" stroke-opacity="0.7"/>
<polygon points="218.31,542 221.9,540 221.9,544" fill="#cc9900" stroke="#cc9900" stroke-width="0.5"/>
<text x="232" y="544.92" font-size="8.1" fill="#222">Seed6</text>
<line x1="211.5" y1="552.04" x2="229.6" y2="552.04" stroke="#6be1e1" stroke-width="0.95" stroke-opacity="0.7"/>
<polygon points="222.49,552.04 218.9,550.04 218.9,554.03" fill="#00cbcc" stroke="#00cbcc" stroke-width="0.5"/>
<text x="232" y="554.96" font-size="8.1" fill="#222">Seed7</text>
<line x1="211.5" y1="562.08" x2="229.6" y2="562.08" stroke="#b49898" stroke-width="0.95" stroke-opacity="0.7"/>
<circle cx="220.4" cy="562.08" r="1.99" fill="#7d4e4e" stroke="#7d4e4e" stroke-width="0.5"/>
<text x="232" y="565" font-size="8.1" fill="#222">Seed8</text>
<line x1="211.5" y1="572.12" x2="229.6" y2="572.12" stroke="#bdbd6b" stroke-width="0.95" stroke-opacity="0.7"/>
<polygon points="220.4,569.93 220.93,571.39 222.49,571.44 221.25,572.4 221.69,573.9 220.4,573.02 219.11,573.9 219.55,572.4 218.31,571.44 219.87,571.39" fill="#8e8e00" stroke="#8e8e00" stroke-width="0.5"/>
<text x="232" y="575.04" font-size="8.1" fill="#222">Seed9</text>
<line x1="211.5" y1="582.16" x2="229.6" y2="582.16" stroke="#fda66c" stroke-width="0.95" stroke-opacity="0.7"/>
<polygon points="220.4,580.07 222.39,581.51 221.63,583.85 219.17,583.85 218.41,581.51" fill="#fb6501" stroke="#fb6501" stroke-width="0.5"/>
<text x="232" y="585.08" font-size="8.1" fill="#222">Seed10</text>
<line x1="211.5" y1="592.2" x2="229.6" y2="592.2" stroke="#8ec4ec" stroke-width="0.95" stroke-opacity="0.7"/>
<circle cx="220.4" cy="592.2" r="1.99" fill="#3d9ade" stroke="#3d9ade" stroke-width="0.5"/>
<text x="232" y="595.12" font-size="8.1" fill="#222">Seed11</text>
<line x1="211.5" y1="602.24" x2="229.6" y2="602.24" stroke="#abd66c" stroke-width="0.95" stroke-opacity="0.7"/>

<text x="232" y="605.16" font-size="8.1" fill="#222">Seed12</text>
<line x1="211.5" y1="612.28" x2="229.6" y2="612.28" stroke="#bbbbbb" stroke-width="1.1" stroke-opacity="0.7"/>
<path d="M218.8 610.68L222 613.88M218.8 613.88L222 610.68" stroke="#8a8a8a" stroke-width="1" fill="none"/>
<text x="232" y="615.2" font-size="8.1" fill="#222">Seed13</text>
<line x1="211.5" y1="622.32" x2="229.6" y2="622.32" stroke="#fcb5ac" stroke-width="1.1" stroke-opacity="0.7"/>
<path d="M218.6 622.32L222.2 622.32M219.32 620.88L221.48 623.76M219.32 623.76L221.48 620.88" stroke="#f98070" stroke-width="0.9" fill="none"/>
<text x="232" y="625.24" font-size="8.1" fill="#222">Seed14</text>
<line x1="211.5" y1="632.36" x2="229.6" y2="632.36" stroke="#96c8f6" stroke-width="1.1" stroke-opacity="1"/>

<text x="232" y="635.28" font-size="8.1" fill="#222">Seed15</text>
<polyline points="370.94,482.85 456.02,536.2" fill="none" stroke="#9a9a9a" stroke-width="0.95" stroke-opacity="1"/>
<polyline points="370.94,589.74 456.02,635.64" fill="none" stroke="#f79090" stroke-width="0.95" stroke-opacity="1"/>
<polyline points="370.94,577.66 456.02,578.27" fill="none" stroke="#7aabec" stroke-width="0.95" stroke-opacity="1"/>
<polyline points="370.94,612.49 456.02,584.31" fill="none" stroke="#8bcfa9" stroke-width="0.95" stroke-opacity="1"/>
<polyline points="370.94,605.84 456.02,635.64" fill="none" stroke="#d2b0ec" stroke-width="0.95" stroke-opacity="1"/>
<polyline points="370.94,635.64 456.02,628.59" fill="none" stroke="#e1c46b" stroke-width="0.95" stroke-opacity="1"/>
<polyline points="370.94,635.64 456.02,619.53" fill="none" stroke="#6be1e1" stroke-width="0.95" stroke-opacity="1"/>
<polyline points="370.94,605.44 456.02,635.64" fill="none" stroke="#b49898" stroke-width="0.95" stroke-opacity="1"/>
<polyline points="370.94,623.56 456.02,635.64" fill="none" stroke="#bdbd6b" stroke-width="0.95" stroke-opacity="1"/>
<polyline points="370.94,607.45 456.02,601.01" fill="none" stroke="#fda66c" stroke-width="0.95" stroke-opacity="1"/>
<polyline points="370.94,534.99 456.02,615.51" fill="none" stroke="#8ec4ec" stroke-width="0.95" stroke-opacity="1"/>
<polyline points="370.94,555.12 456.02,627.58" fill="none" stroke="#abd66c" stroke-width="0.95" stroke-opacity="1"/>
<polyline points="370.94,544.25 456.02,607.45" fill="none" stroke="#bbbbbb" stroke-width="1.1" stroke-opacity="1"/>
<polyline points="370.94,562.36 456.02,595.38" fill="none" stroke="#fcb5ac" stroke-width="1.1" stroke-opacity="1"/>
<polyline points="370.94,595.38 456.02,536.2" fill="none" stroke="#96c8f6" stroke-width="1.1" stroke-opacity="1"/>
<rect x="369.15" y="481.07" width="3.57" height="3.57" fill="#515151" stroke="#515151" stroke-width="0.5"/>
<rect x="454.23" y="534.41" width="3.57" height="3.57" fill="#515151" stroke="#515151" stroke-width="0.5"/>
<circle cx="370.94" cy="589.74" r="2.1" fill="#f14040" stroke="#f14040" stroke-width="0.5"/>
<circle cx="456.02" cy="635.64" r="2.1" fill="#f14040" stroke="#f14040" stroke-width="0.5"/>
<polygon points="370.94,575.46 373.04,579.24 368.84,579.24" fill="#1a6fdf" stroke="#1a6fdf" stroke-width="0.5"/>
<polygon points="456.02,576.06 458.12,579.84 453.92,579.84" fill="#1a6fdf" stroke="#1a6fdf" stroke-width="0.5"/>
<polygon points="370.94,614.69 373.04,610.91 368.84,610.91" fill="#37ad6b" stroke="#37ad6b" stroke-width="0.5"/>
<polygon points="456.02,586.51 458.12,582.73 453.92,582.73" fill="#37ad6b" stroke="#37ad6b" stroke-width="0.5"/>
<polygon points="370.94,603.43 373.04,605.84 370.94,608.26 368.84,605.84" fill="#b177de" stroke="#b177de" stroke-width="0.5"/>
<polygon points="456.02,633.22 458.12,635.64 456.02,638.05 453.92,635.64" fill="#b177de" stroke="#b177de" stroke-width="0.5"/>
<polygon points="368.74,635.64 372.51,633.54 372.51,637.74" fill="#cc9900" stroke="#cc9900" stroke-width="0.5"/>
<polygon points="453.81,628.59 457.59,626.49 457.59,630.69" fill="#cc9900" stroke="#cc9900" stroke-width="0.5"/>
<polygon points="373.14,635.64 369.37,633.54 369.37,637.74" fill="#00cbcc" stroke="#00cbcc" stroke-width="0.5"/>
<polygon points="458.22,619.53 454.44,617.43 454.44,621.63" fill="#00cbcc" stroke="#00cbcc" stroke-width="0.5"/>
<circle cx="370.94" cy="605.44" r="2.1" fill="#7d4e4e" stroke="#7d4e4e" stroke-width="0.5"/>
<circle cx="456.02" cy="635.64" r="2.1" fill="#7d4e4e" stroke="#7d4e4e" stroke-width="0.5"/>
<polygon points="370.94,621.25 371.5,622.79 373.14,622.84 371.84,623.85 372.3,625.43 370.94,624.5 369.58,625.43 370.04,623.85 368.74,622.84 370.38,622.79" fill="#8e8e00" stroke="#8e8e00" stroke-width="0.5"/>
<polygon points="456.02,633.33 456.58,634.87 458.22,634.92 456.92,635.93 457.38,637.5 456.02,636.58 454.66,637.5 455.12,635.93 453.82,634.92 455.46,634.87" fill="#8e8e00" stroke="#8e8e00" stroke-width="0.5"/>
<polygon points="370.94,605.25 373.04,606.77 372.24,609.24 369.64,609.24 368.84,606.77" fill="#fb6501" stroke="#fb6501" stroke-width="0.5"/>
<polygon points="456.02,598.81 458.12,600.33 457.32,602.8 454.72,602.8 453.92,600.33" fill="#fb6501" stroke="#fb6501" stroke-width="0.5"/>
<circle cx="370.94" cy="534.99" r="2.1" fill="#3d9ade" stroke="#3d9ade" stroke-width="0.5"/>
<circle cx="456.02" cy="615.51" r="2.1" fill="#3d9ade" stroke="#3d9ade" stroke-width="0.5"/>


<path d="M369.26 542.57L372.62 545.93M369.26 545.93L372.62 542.57" stroke="#8a8a8a" stroke-width="1" fill="none"/>
<path d="M454.34 605.77L457.7 609.13M454.34 609.13L457.7 605.77" stroke="#8a8a8a" stroke-width="1" fill="none"/>
<path d="M369.05 562.36L372.83 562.36M369.81 560.85L372.07 563.88M369.81 563.88L372.07 560.85" stroke="#f98070" stroke-width="0.9" fill="none"/>
<path d="M454.13 595.38L457.91 595.38M454.89 593.86L457.15 596.89M454.89 596.89L457.15 593.86" stroke="#f98070" stroke-width="0.9" fill="none"/>


<path d="M327.85 474.6H541.65" stroke="#8c8c8c" stroke-width="1.1"/>
<path d="M541.1 474.05V646.25" stroke="#505050" stroke-width="1.1"/>
<path d="M327.85 645.7H541.65" stroke="#606060" stroke-width="1.1"/>
<path d="M328.4 474.05V646.25" stroke="#4c4c4c" stroke-width="1.1"/>
<path d="M328.4 635.64h3.2M328.4 615.51h3.2M328.4 595.38h3.2M328.4 575.25h3.2M328.4 555.12h3.2M328.4 534.99h3.2M328.4 514.86h3.2M328.4 494.73h3.2M328.4 474.6h3.2M328.4 625.57h1.8M328.4 605.44h1.8M328.4 585.31h1.8M328.4 565.18h1.8M328.4 545.05h1.8M328.4 524.92h1.8M328.4 504.79h1.8M328.4 484.66h1.8M370.94 645.7v-3.2M456.02 645.7v-3.2M413.48 645.7v-1.8M498.56 645.7v-1.8" stroke="#555555" stroke-width="1.1" fill="none"/>
<text x="324.4" y="638.84" font-size="10.8" text-anchor="end">0.1</text>
<text x="324.4" y="618.71" font-size="10.8" text-anchor="end">0.2</text>
<text x="324.4" y="598.58" font-size="10.8" text-anchor="end">0.3</text>
<text x="324.4" y="578.45" font-size="10.8" text-anchor="end">0.4</text>
<text x="324.4" y="558.32" font-size="10.8" text-anchor="end">0.5</text>
<text x="324.4" y="538.19" font-size="10.8" text-anchor="end">0.6</text>
<text x="324.4" y="518.06" font-size="10.8" text-anchor="end">0.7</text>
<text x="324.4" y="497.93" font-size="10.8" text-anchor="end">0.8</text>
<text x="324.4" y="477.8" font-size="10.8" text-anchor="end">0.9</text>
<text x="371.3" y="658.4" font-size="10.8" text-anchor="middle" textLength="14.2" lengthAdjust="spacingAndGlyphs">RF</text>
<text x="456.2" y="658.4" font-size="10.8" text-anchor="middle" textLength="13.7" lengthAdjust="spacingAndGlyphs">ET</text>
<text x="434.55" y="680.2" font-size="13.5" text-anchor="middle" font-weight="bold" textLength="67.3" lengthAdjust="spacingAndGlyphs">Algorithm</text>
<text x="295.9" y="559.9" font-size="14.4" text-anchor="middle" font-weight="bold" textLength="167.4" lengthAdjust="spacingAndGlyphs" transform="rotate(-90 295.9 559.9)">Evaluation value of MSE</text>
<text x="283.4" y="467" font-size="15.1" stroke="#1a1a1a" stroke-width="0.3" textLength="18.2" lengthAdjust="spacingAndGlyphs">(f)</text>
<rect x="479.8" y="477" width="55.9" height="164.8" fill="#fff" stroke="#555" stroke-width="0.9"/>
<line x1="481.6" y1="483.5" x2="500" y2="483.5" stroke="#9a9a9a" stroke-width="0.95" stroke-opacity="0.7"/>
<rect x="489.4" y="481.8" width="3.39" height="3.39" fill="#515151" stroke="#515151" stroke-width="0.5"/>
<text x="503.9" y="486.56" font-size="8.5" fill="#222">Seed1</text>
<line x1="481.6" y1="494.45" x2="500" y2="494.45" stroke="#f79090" stroke-width="0.95" stroke-opacity="0.7"/>
<circle cx="491.1" cy="494.45" r="1.99" fill="#f14040" stroke="#f14040" stroke-width="0.5"/>
<text x="503.9" y="497.51" font-size="8.5" fill="#222">Seed2</text>
<line x1="481.6" y1="505.4" x2="500" y2="505.4" stroke="#7aabec" stroke-width="0.95" stroke-opacity="0.7"/>
<polygon points="491.1,503.31 493.1,506.9 489.11,506.9" fill="#1a6fdf" stroke="#1a6fdf" stroke-width="0.5"/>
<text x="503.9" y="508.46" font-size="8.5" fill="#222">Seed3</text>
<line x1="481.6" y1="516.35" x2="500" y2="516.35" stroke="#8bcfa9" stroke-width="0.95" stroke-opacity="0.7"/>
<polygon points="491.1,518.44 493.1,514.85 489.11,514.85" fill="#37ad6b" stroke="#37ad6b" stroke-width="0.5"/>
<text x="503.9" y="519.41" font-size="8.5" fill="#222">Seed4</text>
<line x1="481.6" y1="527.3" x2="500" y2="527.3" stroke="#d2b0ec" stroke-width="0.95" stroke-opacity="0.7"/>
<polygon points="491.1,525.01 493.1,527.3 491.1,529.59 489.11,527.3" fill="#b177de" stroke="#b177de" stroke-width="0.5"/>
<text x="503.9" y="530.36" font-size="8.5" fill="#222">Seed5</text>
<line x1="481.6" y1="538.25" x2="500" y2="538.25" stroke="#e1c46b" stroke-width="0.95" stroke-opacity="0.7"/>
<polygon points="489.01,538.25 492.6,536.25 492.6,540.25" fill="#cc9900" stroke="#cc9900" stroke-width="0.5"/>
<text x="503.9" y="541.31" font-size="8.5" fill="#222">Seed6</text>
<line x1="481.6" y1="549.2" x2="500" y2="549.2" stroke="#6be1e1" stroke-width="0.95" stroke-opacity="0.7"/>
<polygon points="493.19,549.2 489.6,547.21 489.6,551.2" fill="#00cbcc" stroke="#00cbcc" stroke-width="0.5"/>
<text x="503.9" y="552.26" font-size="8.5" fill="#222">Seed7</text>
<line x1="481.6" y1="560.15" x2="500" y2="560.15" stroke="#b49898" stroke-width="0.95" stroke-opacity="0.7"/>
<circle cx="491.1" cy="560.15" r="1.99" fill="#7d4e4e" stroke="#7d4e4e" stroke-width="0.5"/>
<text x="503.9" y="563.21" font-size="8.5" fill="#222">Seed8</text>
<line x1="481.6" y1="571.1" x2="500" y2="571.1" stroke="#bdbd6b" stroke-width="0.95" stroke-opacity="0.7"/>
<polygon points="491.1,568.91 491.63,570.37 493.19,570.42 491.95,571.38 492.39,572.88 491.1,572 489.81,572.88 490.25,571.38 489.01,570.42 490.57,570.37" fill="#8e8e00" stroke="#8e8e00" stroke-width="0.5"/>
<text x="503.9" y="574.16" font-size="8.5" fill="#222">Seed9</text>
<line x1="481.6" y1="582.05" x2="500" y2="582.05" stroke="#fda66c" stroke-width="0.95" stroke-opacity="0.7"/>
<polygon points="491.1,579.96 493.09,581.4 492.33,583.74 489.87,583.74 489.11,581.4" fill="#fb6501" stroke="#fb6501" stroke-width="0.5"/>
<text x="503.9" y="585.11" font-size="8.5" fill="#222">Seed10</text>
<line x1="481.6" y1="593" x2="500" y2="593" stroke="#8ec4ec" stroke-width="0.95" stroke-opacity="0.7"/>
<circle cx="491.1" cy="593" r="1.99" fill="#3d9ade" stroke="#3d9ade" stroke-width="0.5"/>
<text x="503.9" y="596.06" font-size="8.5" fill="#222">Seed11</text>
<line x1="481.6" y1="603.95" x2="500" y2="603.95" stroke="#abd66c" stroke-width="0.95" stroke-opacity="0.7"/>

<text x="503.9" y="607.01" font-size="8.5" fill="#222">Seed12</text>
<line x1="481.6" y1="614.9" x2="500" y2="614.9" stroke="#bbbbbb" stroke-width="1.1" stroke-opacity="0.7"/>
<path d="M489.5 613.3L492.7 616.5M489.5 616.5L492.7 613.3" stroke="#8a8a8a" stroke-width="1" fill="none"/>
<text x="503.9" y="617.96" font-size="8.5" fill="#222">Seed13</text>
<line x1="481.6" y1="625.85" x2="500" y2="625.85" stroke="#fcb5ac" stroke-width="1.1" stroke-opacity="0.7"/>
<path d="M489.3 625.85L492.9 625.85M490.02 624.41L492.18 627.29M490.02 627.29L492.18 624.41" stroke="#f98070" stroke-width="0.9" fill="none"/>
<text x="503.9" y="628.91" font-size="8.5" fill="#222">Seed14</text>
<line x1="481.6" y1="636.8" x2="500" y2="636.8" stroke="#96c8f6" stroke-width="1.1" stroke-opacity="1"/>

<text x="503.9" y="639.86" font-size="8.5" fill="#222">Seed15</text>
<polyline points="80.05,786.51 133.35,795.93 186.65,854.17" fill="none" stroke="#9a9a9a" stroke-width="0.95" stroke-opacity="1"/>
<polyline points="80.05,717.13 133.35,806.72 186.65,825.91" fill="none" stroke="#f79090" stroke-width="0.95" stroke-opacity="1"/>
<polyline points="80.05,801.07 133.35,755.5 186.65,796.78" fill="none" stroke="#7aabec" stroke-width="0.95" stroke-opacity="1"/>
<polyline points="80.05,831.9 133.35,854.17 186.65,720.56" fill="none" stroke="#8bcfa9" stroke-width="0.95" stroke-opacity="1"/>
<polyline points="80.05,787.36 133.35,854.17 186.65,815.97" fill="none" stroke="#d2b0ec" stroke-width="0.95" stroke-opacity="1"/>
<polyline points="80.05,797.64 133.35,847.32 186.65,717.13" fill="none" stroke="#e1c46b" stroke-width="0.95" stroke-opacity="1"/>
<polyline points="80.05,821.62 133.35,815.46 186.65,764.41" fill="none" stroke="#6be1e1" stroke-width="0.95" stroke-opacity="1"/>
<polyline points="80.05,832.24 133.35,793.36 186.65,809.63" fill="none" stroke="#b49898" stroke-width="0.95" stroke-opacity="1"/>
<polyline points="80.05,824.19 133.35,847.32 186.65,829.33" fill="none" stroke="#bdbd6b" stroke-width="0.95" stroke-opacity="1"/>
<polyline points="80.05,830.19 133.35,835.33 186.65,717.13" fill="none" stroke="#fda66c" stroke-width="0.95" stroke-opacity="1"/>
<polyline points="80.05,717.13 133.35,841.32 186.65,854.17" fill="none" stroke="#8ec4ec" stroke-width="0.95" stroke-opacity="1"/>
<polyline points="80.05,854.17 133.35,847.32 186.65,829.33" fill="none" stroke="#abd66c" stroke-width="0.95" stroke-opacity="1"/>
<polyline points="80.05,717.13 133.35,737 186.65,854.17" fill="none" stroke="#bbbbbb" stroke-width="1.1" stroke-opacity="1"/>
<polyline points="80.05,717.13 133.35,727.41 186.65,854.17" fill="none" stroke="#fcb5ac" stroke-width="1.1" stroke-opacity="1"/>
<polyline points="80.05,717.13 133.35,741.11 186.65,854.17" fill="none" stroke="#96c8f6" stroke-width="1.1" stroke-opacity="1"/>
<rect x="78.27" y="784.72" width="3.57" height="3.57" fill="#515151" stroke="#515151" stroke-width="0.5"/>
<rect x="131.56" y="794.14" width="3.57" height="3.57" fill="#515151" stroke="#515151" stroke-width="0.5"/>
<rect x="184.87" y="852.38" width="3.57" height="3.57" fill="#515151" stroke="#515151" stroke-width="0.5"/>
<circle cx="80.05" cy="717.13" r="2.1" fill="#f14040" stroke="#f14040" stroke-width="0.5"/>
<circle cx="133.35" cy="806.72" r="2.1" fill="#f14040" stroke="#f14040" stroke-width="0.5"/>
<circle cx="186.65" cy="825.91" r="2.1" fill="#f14040" stroke="#f14040" stroke-width="0.5"/>
<polygon points="80.05,803.27 82.15,799.49 77.95,799.49" fill="#1a6fdf" stroke="#1a6fdf" stroke-width="0.5"/>
<polygon points="133.35,757.71 135.45,753.93 131.25,753.93" fill="#1a6fdf" stroke="#1a6fdf" stroke-width="0.5"/>
<polygon points="186.65,798.99 188.75,795.21 184.55,795.21" fill="#1a6fdf" stroke="#1a6fdf" stroke-width="0.5"/>
<polygon points="80.05,829.7 82.15,833.48 77.95,833.48" fill="#37ad6b" stroke="#37ad6b" stroke-width="0.5"/>
<polygon points="133.35,851.96 135.45,855.75 131.25,855.75" fill="#37ad6b" stroke="#37ad6b" stroke-width="0.5"/>
<polygon points="186.65,718.35 188.75,722.13 184.55,722.13" fill="#37ad6b" stroke="#37ad6b" stroke-width="0.5"/>
<polygon points="80.05,784.95 82.15,787.36 80.05,789.78 77.95,787.36" fill="#b177de" stroke="#b177de" stroke-width="0.5"/>
<polygon points="133.35,851.75 135.45,854.17 133.35,856.58 131.25,854.17" fill="#b177de" stroke="#b177de" stroke-width="0.5"/>
<polygon points="186.65,813.56 188.75,815.97 186.65,818.39 184.55,815.97" fill="#b177de" stroke="#b177de" stroke-width="0.5"/>
<polygon points="77.84,797.64 81.62,795.54 81.62,799.74" fill="#cc9900" stroke="#cc9900" stroke-width="0.5"/>
<polygon points="131.14,847.32 134.92,845.22 134.92,849.42" fill="#cc9900" stroke="#cc9900" stroke-width="0.5"/>
<polygon points="184.44,717.13 188.22,715.03 188.22,719.23" fill="#cc9900" stroke="#cc9900" stroke-width="0.5"/>
<polygon points="82.25,821.62 78.47,819.52 78.47,823.72" fill="#00cbcc" stroke="#00cbcc" stroke-width="0.5"/>
<polygon points="135.56,815.46 131.78,813.36 131.78,817.56" fill="#00cbcc" stroke="#00cbcc" stroke-width="0.5"/>
<polygon points="188.86,764.41 185.08,762.31 185.08,766.51" fill="#00cbcc" stroke="#00cbcc" stroke-width="0.5"/>
<circle cx="80.05" cy="832.24" r="2.1" fill="#7d4e4e" stroke="#7d4e4e" stroke-width="0.5"/>
<circle cx="133.35" cy="793.36" r="2.1" fill="#7d4e4e" stroke="#7d4e4e" stroke-width="0.5"/>
<circle cx="186.65" cy="809.63" r="2.1" fill="#7d4e4e" stroke="#7d4e4e" stroke-width="0.5"/>
<polygon points="80.05,821.88 80.61,823.43 82.25,823.48 80.95,824.48 81.41,826.06 80.05,825.14 78.69,826.06 79.15,824.48 77.85,823.48 79.49,823.43" fill="#8e8e00" stroke="#8e8e00" stroke-width="0.5"/>
<polygon points="133.35,845.01 133.91,846.55 135.55,846.6 134.25,847.61 134.71,849.19 133.35,848.26 131.99,849.19 132.45,847.61 131.15,846.6 132.79,846.55" fill="#8e8e00" stroke="#8e8e00" stroke-width="0.5"/>
<polygon points="186.65,827.02 187.21,828.57 188.85,828.62 187.55,829.62 188.01,831.2 186.65,830.28 185.29,831.2 185.75,829.62 184.45,828.62 186.09,828.57" fill="#8e8e00" stroke="#8e8e00" stroke-width="0.5"/>
<polygon points="80.05,827.98 82.15,829.51 81.35,831.97 78.75,831.97 77.95,829.51" fill="#fb6501" stroke="#fb6501" stroke-width="0.5"/>
<polygon points="133.35,833.12 135.45,834.65 134.65,837.11 132.05,837.11 131.25,834.65" fill="#fb6501" stroke="#fb6501" stroke-width="0.5"/>
<polygon points="186.65,714.92 188.75,716.45 187.95,718.91 185.35,718.91 184.55,716.45" fill="#fb6501" stroke="#fb6501" stroke-width="0.5"/>
<circle cx="80.05" cy="717.13" r="2.1" fill="#3d9ade" stroke="#3d9ade" stroke-width="0.5"/>
<circle cx="133.35" cy="841.32" r="2.1" fill="#3d9ade" stroke="#3d9ade" stroke-width="0.5"/>
<circle cx="186.65" cy="854.17" r="2.1" fill="#3d9ade" stroke="#3d9ade" stroke-width="0.5"/>
<path d="M78.16 854.17L81.94 854.17M80.05 852.28L80.05 856.06" stroke="#6fb802" stroke-width="1" fill="none"/>
<path d="M131.46 847.32L135.24 847.32M133.35 845.43L133.35 849.21" stroke="#6fb802" stroke-width="1" fill="none"/>
<path d="M184.76 829.33L188.54 829.33M186.65 827.44L186.65 831.22" stroke="#6fb802" stroke-width="1" fill="none"/>
<path d="M78.37 715.45L81.73 718.81M78.37 718.81L81.73 715.45" stroke="#8a8a8a" stroke-width="1" fill="none"/>
<path d="M131.67 735.32L135.03 738.68M131.67 738.68L135.03 735.32" stroke="#8a8a8a" stroke-width="1" fill="none"/>
<path d="M184.97 852.49L188.33 855.85M184.97 855.85L188.33 852.49" stroke="#8a8a8a" stroke-width="1" fill="none"/>
<path d="M78.16 717.13L81.94 717.13M78.92 715.62L81.18 718.64M78.92 718.64L81.18 715.62" stroke="#f98070" stroke-width="0.9" fill="none"/>
<path d="M131.46 727.41L135.24 727.41M132.22 725.9L134.48 728.92M132.22 728.92L134.48 725.9" stroke="#f98070" stroke-width="0.9" fill="none"/>
<path d="M184.76 854.17L188.54 854.17M185.52 852.66L187.78 855.68M185.52 855.68L187.78 852.66" stroke="#f98070" stroke-width="0.9" fill="none"/>



<path d="M52.85 700H267.15" stroke="#8c8c8c" stroke-width="1.1"/>
<path d="M266.6 699.45V871.85" stroke="#505050" stroke-width="1.1"/>
<path d="M52.85 871.3H267.15" stroke="#606060" stroke-width="1.1"/>
<path d="M53.4 699.45V871.85" stroke="#4c4c4c" stroke-width="1.1"/>
<path d="M53.4 871.3h3.2M53.4 837.04h3.2M53.4 802.78h3.2M53.4 768.52h3.2M53.4 734.26h3.2M53.4 700h3.2M53.4 854.17h1.8M53.4 819.91h1.8M53.4 785.65h1.8M53.4 751.39h1.8M53.4 717.13h1.8M80.05 871.3v-3.2M133.35 871.3v-3.2M186.65 871.3v-3.2M239.95 871.3v-3.2M106.7 871.3v-1.8M160 871.3v-1.8M213.3 871.3v-1.8" stroke="#555555" stroke-width="1.1" fill="none"/>
<text x="48.8" y="874.5" font-size="10.8" text-anchor="end">0.0</text>
<text x="48.8" y="840.24" font-size="10.8" text-anchor="end">0.2</text>
<text x="48.8" y="805.98" font-size="10.8" text-anchor="end">0.4</text>
<text x="48.8" y="771.72" font-size="10.8" text-anchor="end">0.6</text>
<text x="48.8" y="737.46" font-size="10.8" text-anchor="end">0.8</text>
<text x="48.8" y="703.2" font-size="10.8" text-anchor="end">1.0</text>
<text x="91.9" y="884.5" font-size="11" text-anchor="middle" textLength="61.6" lengthAdjust="spacingAndGlyphs">ADABOOST</text>
<text x="145.4" y="884.5" font-size="11" text-anchor="middle" textLength="30.5" lengthAdjust="spacingAndGlyphs">GBDT</text>
<text x="199" y="884.5" font-size="11" text-anchor="middle" textLength="54.4" lengthAdjust="spacingAndGlyphs">XGBOOST</text>
<text x="159.55" y="906.6" font-size="13.5" text-anchor="middle" font-weight="bold" textLength="67.5" lengthAdjust="spacingAndGlyphs">Algorithm</text>
<text x="28.1" y="785.8" font-size="14.2" text-anchor="middle" font-weight="bold" textLength="169.2" lengthAdjust="spacingAndGlyphs" transform="rotate(-90 28.1 785.8)">Evaluation value of MAE</text>
<text x="6.3" y="691.9" font-size="16" stroke="#1a1a1a" stroke-width="0.35" textLength="21.9" lengthAdjust="spacingAndGlyphs">(g)</text>
<rect x="209" y="714.6" width="50.1" height="150" fill="#fff" stroke="#555" stroke-width="0.9"/>
<line x1="210.5" y1="720" x2="228.5" y2="720" stroke="#9a9a9a" stroke-width="0.95" stroke-opacity="0.7"/>
<rect x="217.72" y="718.22" width="3.57" height="3.57" fill="#515151" stroke="#515151" stroke-width="0.5"/>
<text x="230.6" y="722.97" font-size="8.25" fill="#222">Seed1</text>
<line x1="210.5" y1="729.99" x2="228.5" y2="729.99" stroke="#f79090" stroke-width="0.95" stroke-opacity="0.7"/>
<circle cx="219.5" cy="729.99" r="2.1" fill="#f14040" stroke="#f14040" stroke-width="0.5"/>
<text x="230.6" y="732.96" font-size="8.25" fill="#222">Seed2</text>
<line x1="210.5" y1="739.98" x2="228.5" y2="739.98" stroke="#7aabec" stroke-width="0.95" stroke-opacity="0.7"/>
<polygon points="219.5,742.19 221.6,738.4 217.4,738.4" fill="#1a6fdf" stroke="#1a6fdf" stroke-width="0.5"/>
<text x="230.6" y="742.95" font-size="8.25" fill="#222">Seed3</text>
<line x1="210.5" y1="749.97" x2="228.5" y2="749.97" stroke="#8bcfa9" stroke-width="0.95" stroke-opacity="0.7"/>
<polygon points="219.5,747.76 221.6,751.55 217.4,751.55" fill="#37ad6b" stroke="#37ad6b" stroke-width="0.5"/>
<text x="230.6" y="752.94" font-size="8.25" fill="#222">Seed4</text>
<line x1="210.5" y1="759.96" x2="228.5" y2="759.96" stroke="#d2b0ec" stroke-width="0.95" stroke-opacity="0.7"/>
<polygon points="219.5,757.55 221.6,759.96 219.5,762.38 217.4,759.96" fill="#b177de" stroke="#b177de" stroke-width="0.5"/>
<text x="230.6" y="762.93" font-size="8.25" fill="#222">Seed5</text>
<line x1="210.5" y1="769.95" x2="228.5" y2="769.95" stroke="#e1c46b" stroke-width="0.95" stroke-opacity="0.7"/>
<polygon points="217.29,769.95 221.07,767.85 221.07,772.05" fill="#cc9900" stroke="#cc9900" stroke-width="0.5"/>
<text x="230.6" y="772.92" font-size="8.25" fill="#222">Seed6</text>
<line x1="210.5" y1="779.94" x2="228.5" y2="779.94" stroke="#6be1e1" stroke-width="0.95" stroke-opacity="0.7"/>
<polygon points="221.71,779.94 217.93,777.84 217.93,782.04" fill="#00cbcc" stroke="#00cbcc" stroke-width="0.5"/>
<text x="230.6" y="782.91" font-size="8.25" fill="#222">Seed7</text>
<line x1="210.5" y1="789.93" x2="228.5" y2="789.93" stroke="#b49898" stroke-width="0.95" stroke-opacity="0.7"/>
<circle cx="219.5" cy="789.93" r="2.1" fill="#7d4e4e" stroke="#7d4e4e" stroke-width="0.5"/>
<text x="230.6" y="792.9" font-size="8.25" fill="#222">Seed8</text>
<line x1="210.5" y1="799.92" x2="228.5" y2="799.92" stroke="#bdbd6b" stroke-width="0.95" stroke-opacity="0.7"/>
<polygon points="219.5,797.61 220.06,799.16 221.7,799.21 220.4,800.21 220.86,801.79 219.5,800.87 218.14,801.79 218.6,800.21 217.3,799.21 218.94,799.16" fill="#8e8e00" stroke="#8e8e00" stroke-width="0.5"/>
<text x="230.6" y="802.89" font-size="8.25" fill="#222">Seed9</text>
<line x1="210.5" y1="809.91" x2="228.5" y2="809.91" stroke="#fda66c" stroke-width="0.95" stroke-opacity="0.7"/>
<polygon points="219.5,807.7 221.6,809.23 220.8,811.69 218.2,811.69 217.4,809.23" fill="#fb6501" stroke="#fb6501" stroke-width="0.5"/>
<text x="230.6" y="812.88" font-size="8.25" fill="#222">Seed10</text>
<line x1="210.5" y1="819.9" x2="228.5" y2="819.9" stroke="#8ec4ec" stroke-width="0.95" stroke-opacity="0.7"/>
<circle cx="219.5" cy="819.9" r="2.1" fill="#3d9ade" stroke="#3d9ade" stroke-width="0.5"/>
<text x="230.6" y="822.87" font-size="8.25" fill="#222">Seed11</text>
<line x1="210.5" y1="829.89" x2="228.5" y2="829.89" stroke="#abd66c" stroke-width="0.95" stroke-opacity="0.7"/>
<path d="M217.61 829.89L221.39 829.89M219.5 828L219.5 831.78" stroke="#6fb802" stroke-width="1" fill="none"/>
<text x="230.6" y="832.86" font-size="8.25" fill="#222">Seed12</text>
<line x1="210.5" y1="839.88" x2="228.5" y2="839.88" stroke="#bbbbbb" stroke-width="1.1" stroke-opacity="0.7"/>
<path d="M217.82 838.2L221.18 841.56M217.82 841.56L221.18 838.2" stroke="#8a8a8a" stroke-width="1" fill="none"/>
<text x="230.6" y="842.85" font-size="8.25" fill="#222">Seed13</text>
<line x1="210.5" y1="849.87" x2="228.5" y2="849.87" stroke="#fcb5ac" stroke-width="1.1" stroke-opacity="0.7"/>
<path d="M217.61 849.87L221.39 849.87M218.37 848.36L220.63 851.38M218.37 851.38L220.63 848.36" stroke="#f98070" stroke-width="0.9" fill="none"/>
<text x="230.6" y="852.84" font-size="8.25" fill="#222">Seed14</text>
<line x1="210.5" y1="859.86" x2="228.5" y2="859.86" stroke="#96c8f6" stroke-width="1.1" stroke-opacity="1"/>

<text x="230.6" y="862.83" font-size="8.25" fill="#222">Seed15</text>
<polyline points="354.97,811.83 408.12,817.99 461.27,852.19" fill="none" stroke="#9a9a9a" stroke-width="0.95" stroke-opacity="1"/>
<polyline points="354.97,717.1 408.12,813.54 461.27,835.09" fill="none" stroke="#f79090" stroke-width="0.95" stroke-opacity="1"/>
<polyline points="354.97,811.83 408.12,789.6 461.27,724.28" fill="none" stroke="#7aabec" stroke-width="0.95" stroke-opacity="1"/>
<polyline points="354.97,833.38 408.12,853.9 461.27,751.3" fill="none" stroke="#8bcfa9" stroke-width="0.95" stroke-opacity="1"/>
<polyline points="354.97,822.78 408.12,845.86 461.27,824.49" fill="none" stroke="#d2b0ec" stroke-width="0.95" stroke-opacity="1"/>
<polyline points="354.97,838.51 408.12,780.71 461.27,835.09" fill="none" stroke="#e1c46b" stroke-width="0.95" stroke-opacity="1"/>
<polyline points="354.97,831.5 408.12,790.63 461.27,808.93" fill="none" stroke="#6be1e1" stroke-width="0.95" stroke-opacity="1"/>
<polyline points="354.97,780.03 408.12,791.31 461.27,852.19" fill="none" stroke="#b49898" stroke-width="0.95" stroke-opacity="1"/>
<polyline points="354.97,798.5 408.12,848.77 461.27,838" fill="none" stroke="#bdbd6b" stroke-width="0.95" stroke-opacity="1"/>
<polyline points="354.97,836.8 408.12,813.54 461.27,719.84" fill="none" stroke="#fda66c" stroke-width="0.95" stroke-opacity="1"/>
<polyline points="354.97,717.1 408.12,747.2 461.27,853.9" fill="none" stroke="#8ec4ec" stroke-width="0.95" stroke-opacity="1"/>
<polyline points="354.97,853.9 408.12,717.1 461.27,783.45" fill="none" stroke="#abd66c" stroke-width="0.95" stroke-opacity="1"/>
<polyline points="354.97,717.1 408.12,734.2 461.27,852.19" fill="none" stroke="#bbbbbb" stroke-width="1.1" stroke-opacity="1"/>
<polyline points="354.97,717.1 408.12,729.92 461.27,852.19" fill="none" stroke="#fcb5ac" stroke-width="1.1" stroke-opacity="1"/>
<polyline points="354.97,717.1 408.12,735.91 461.27,852.19" fill="none" stroke="#96c8f6" stroke-width="1.1" stroke-opacity="1"/>
<rect x="353.19" y="810.05" width="3.57" height="3.57" fill="#515151" stroke="#515151" stroke-width="0.5"/>
<rect x="406.34" y="816.21" width="3.57" height="3.57" fill="#515151" stroke="#515151" stroke-width="0.5"/>
<rect x="459.49" y="850.41" width="3.57" height="3.57" fill="#515151" stroke="#515151" stroke-width="0.5"/>
<circle cx="354.97" cy="717.1" r="2.1" fill="#f14040" stroke="#f14040" stroke-width="0.5"/>
<circle cx="408.12" cy="813.54" r="2.1" fill="#f14040" stroke="#f14040" stroke-width="0.5"/>
<circle cx="461.27" cy="835.09" r="2.1" fill="#f14040" stroke="#f14040" stroke-width="0.5"/>
<polygon points="354.97,809.63 357.07,813.41 352.87,813.41" fill="#1a6fdf" stroke="#1a6fdf" stroke-width="0.5"/>
<polygon points="408.12,787.4 410.23,791.18 406.02,791.18" fill="#1a6fdf" stroke="#1a6fdf" stroke-width="0.5"/>
<polygon points="461.27,722.08 463.38,725.86 459.17,725.86" fill="#1a6fdf" stroke="#1a6fdf" stroke-width="0.5"/>
<polygon points="354.97,835.59 357.07,831.8 352.87,831.8" fill="#37ad6b" stroke="#37ad6b" stroke-width="0.5"/>
<polygon points="408.12,856.11 410.23,852.32 406.02,852.32" fill="#37ad6b" stroke="#37ad6b" stroke-width="0.5"/>
<polygon points="461.27,753.5 463.38,749.72 459.17,749.72" fill="#37ad6b" stroke="#37ad6b" stroke-width="0.5"/>
<polygon points="354.97,820.36 357.07,822.78 354.97,825.19 352.87,822.78" fill="#b177de" stroke="#b177de" stroke-width="0.5"/>
<polygon points="408.12,843.45 410.23,845.86 408.12,848.28 406.02,845.86" fill="#b177de" stroke="#b177de" stroke-width="0.5"/>
<polygon points="461.27,822.07 463.38,824.49 461.27,826.9 459.17,824.49" fill="#b177de" stroke="#b177de" stroke-width="0.5"/>
<polygon points="352.77,838.51 356.55,836.41 356.55,840.61" fill="#cc9900" stroke="#cc9900" stroke-width="0.5"/>
<polygon points="405.92,780.71 409.7,778.61 409.7,782.81" fill="#cc9900" stroke="#cc9900" stroke-width="0.5"/>
<polygon points="459.07,835.09 462.85,832.99 462.85,837.19" fill="#cc9900" stroke="#cc9900" stroke-width="0.5"/>
<polygon points="357.18,831.5 353.4,829.4 353.4,833.6" fill="#00cbcc" stroke="#00cbcc" stroke-width="0.5"/>
<polygon points="410.33,790.63 406.55,788.53 406.55,792.73" fill="#00cbcc" stroke="#00cbcc" stroke-width="0.5"/>
<polygon points="463.48,808.93 459.7,806.83 459.7,811.03" fill="#00cbcc" stroke="#00cbcc" stroke-width="0.5"/>
<circle cx="354.97" cy="780.03" r="2.1" fill="#7d4e4e" stroke="#7d4e4e" stroke-width="0.5"/>
<circle cx="408.12" cy="791.31" r="2.1" fill="#7d4e4e" stroke="#7d4e4e" stroke-width="0.5"/>
<circle cx="461.27" cy="852.19" r="2.1" fill="#7d4e4e" stroke="#7d4e4e" stroke-width="0.5"/>
<polygon points="354.97,796.19 355.53,797.73 357.17,797.78 355.87,798.79 356.33,800.36 354.97,799.44 353.62,800.36 354.08,798.79 352.78,797.78 354.42,797.73" fill="#8e8e00" stroke="#8e8e00" stroke-width="0.5"/>
<polygon points="408.12,846.46 408.68,848.01 410.32,848.06 409.02,849.06 409.48,850.64 408.12,849.72 406.77,850.64 407.23,849.06 405.93,848.06 407.57,848.01" fill="#8e8e00" stroke="#8e8e00" stroke-width="0.5"/>
<polygon points="461.27,835.69 461.83,837.23 463.47,837.28 462.17,838.29 462.63,839.87 461.27,838.94 459.92,839.87 460.38,838.29 459.08,837.28 460.72,837.23" fill="#8e8e00" stroke="#8e8e00" stroke-width="0.5"/>
<polygon points="354.97,834.59 357.07,836.12 356.27,838.58 353.68,838.58 352.88,836.12" fill="#fb6501" stroke="#fb6501" stroke-width="0.5"/>
<polygon points="408.12,811.34 410.22,812.86 409.42,815.33 406.83,815.33 406.03,812.86" fill="#fb6501" stroke="#fb6501" stroke-width="0.5"/>
<polygon points="461.27,717.63 463.37,719.15 462.57,721.62 459.98,721.62 459.18,719.15" fill="#fb6501" stroke="#fb6501" stroke-width="0.5"/>
<circle cx="354.97" cy="717.1" r="2.1" fill="#3d9ade" stroke="#3d9ade" stroke-width="0.5"/>
<circle cx="408.12" cy="747.2" r="2.1" fill="#3d9ade" stroke="#3d9ade" stroke-width="0.5"/>
<circle cx="461.27" cy="853.9" r="2.1" fill="#3d9ade" stroke="#3d9ade" stroke-width="0.5"/>
<path d="M353.08 853.9L356.86 853.9M354.97 852.01L354.97 855.79" stroke="#6fb802" stroke-width="1" fill="none"/>
<path d="M406.24 717.1L410.01 717.1M408.12 715.21L408.12 718.99" stroke="#6fb802" stroke-width="1" fill="none"/>
<path d="M459.38 783.45L463.16 783.45M461.27 781.56L461.27 785.34" stroke="#6fb802" stroke-width="1" fill="none"/>
<path d="M353.29 715.42L356.65 718.78M353.29 718.78L356.65 715.42" stroke="#8a8a8a" stroke-width="1" fill="none"/>
<path d="M406.44 732.52L409.81 735.88M406.44 735.88L409.81 732.52" stroke="#8a8a8a" stroke-width="1" fill="none"/>
<path d="M459.59 850.51L462.95 853.87M459.59 853.87L462.95 850.51" stroke="#8a8a8a" stroke-width="1" fill="none"/>
<path d="M353.08 717.1L356.86 717.1M353.84 715.59L356.11 718.61M353.84 718.61L356.11 715.59" stroke="#f98070" stroke-width="0.9" fill="none"/>
<path d="M406.24 729.92L410.01 729.92M406.99 728.41L409.26 731.44M406.99 731.44L409.26 728.41" stroke="#f98070" stroke-width="0.9" fill="none"/>
<path d="M459.38 852.19L463.16 852.19M460.14 850.68L462.41 853.7M460.14 853.7L462.41 850.68" stroke="#f98070" stroke-width="0.9" fill="none"/>



<path d="M327.85 700H541.55" stroke="#8c8c8c" stroke-width="1.1"/>
<path d="M541 699.45V871.55" stroke="#505050" stroke-width="1.1"/>
<path d="M327.85 871H541.55" stroke="#606060" stroke-width="1.1"/>
<path d="M328.4 699.45V871.55" stroke="#4c4c4c" stroke-width="1.1"/>
<path d="M328.4 871h3.2M328.4 836.8h3.2M328.4 802.6h3.2M328.4 768.4h3.2M328.4 734.2h3.2M328.4 700h3.2M328.4 853.9h1.8M328.4 819.7h1.8M328.4 785.5h1.8M328.4 751.3h1.8M328.4 717.1h1.8M354.97 871v-3.2M408.12 871v-3.2M461.27 871v-3.2M514.42 871v-3.2M381.55 871v-1.8M434.7 871v-1.8M487.85 871v-1.8" stroke="#555555" stroke-width="1.1" fill="none"/>
<text x="324" y="874.2" font-size="10.8" text-anchor="end">0.0</text>
<text x="324" y="840" font-size="10.8" text-anchor="end">0.2</text>
<text x="324" y="805.8" font-size="10.8" text-anchor="end">0.4</text>
<text x="324" y="771.6" font-size="10.8" text-anchor="end">0.6</text>
<text x="324" y="737.4" font-size="10.8" text-anchor="end">0.8</text>
<text x="324" y="703.2" font-size="10.8" text-anchor="end">1.0</text>
<text x="368.2" y="884.5" font-size="11" text-anchor="middle" textLength="62" lengthAdjust="spacingAndGlyphs">ADABOOST</text>
<text x="421.8" y="884.5" font-size="11" text-anchor="middle" textLength="30.5" lengthAdjust="spacingAndGlyphs">GBDT</text>
<text x="475" y="884.5" font-size="11" text-anchor="middle" textLength="54.4" lengthAdjust="spacingAndGlyphs">XGBOOST</text>
<text x="434.65" y="906.6" font-size="13.5" text-anchor="middle" font-weight="bold" textLength="66.9" lengthAdjust="spacingAndGlyphs">Algorithm</text>
<text x="295.9" y="785.7" font-size="14.4" text-anchor="middle" font-weight="bold" textLength="167" lengthAdjust="spacingAndGlyphs" transform="rotate(-90 295.9 785.7)">Evaluation value of MSE</text>
<text x="281.6" y="690.5" font-size="14.6" stroke="#1a1a1a" stroke-width="0.35" textLength="20.8" lengthAdjust="spacingAndGlyphs">(h)</text>
<rect x="482.5" y="700.5" width="56.5" height="165" fill="#fff" stroke="#555" stroke-width="0.9"/>
<line x1="484" y1="708" x2="503.5" y2="708" stroke="#9a9a9a" stroke-width="0.95" stroke-opacity="0.7"/>
<rect x="491.99" y="706.39" width="3.21" height="3.21" fill="#515151" stroke="#515151" stroke-width="0.5"/>
<text x="506.3" y="711.19" font-size="8.85" fill="#222">Seed1</text>
<line x1="484" y1="718.93" x2="503.5" y2="718.93" stroke="#f79090" stroke-width="0.95" stroke-opacity="0.7"/>
<circle cx="493.6" cy="718.93" r="1.89" fill="#f14040" stroke="#f14040" stroke-width="0.5"/>
<text x="506.3" y="722.12" font-size="8.85" fill="#222">Seed2</text>
<line x1="484" y1="729.86" x2="503.5" y2="729.86" stroke="#7aabec" stroke-width="0.95" stroke-opacity="0.7"/>
<polygon points="493.6,727.88 495.49,731.28 491.71,731.28" fill="#1a6fdf" stroke="#1a6fdf" stroke-width="0.5"/>
<text x="506.3" y="733.05" font-size="8.85" fill="#222">Seed3</text>
<line x1="484" y1="740.79" x2="503.5" y2="740.79" stroke="#8bcfa9" stroke-width="0.95" stroke-opacity="0.7"/>
<polygon points="493.6,742.77 495.49,739.37 491.71,739.37" fill="#37ad6b" stroke="#37ad6b" stroke-width="0.5"/>
<text x="506.3" y="743.98" font-size="8.85" fill="#222">Seed4</text>
<line x1="484" y1="751.72" x2="503.5" y2="751.72" stroke="#d2b0ec" stroke-width="0.95" stroke-opacity="0.7"/>
<polygon points="493.6,749.55 495.49,751.72 493.6,753.89 491.71,751.72" fill="#b177de" stroke="#b177de" stroke-width="0.5"/>
<text x="506.3" y="754.91" font-size="8.85" fill="#222">Seed5</text>
<line x1="484" y1="762.65" x2="503.5" y2="762.65" stroke="#e1c46b" stroke-width="0.95" stroke-opacity="0.7"/>
<polygon points="491.62,762.65 495.02,760.76 495.02,764.54" fill="#cc9900" stroke="#cc9900" stroke-width="0.5"/>
<text x="506.3" y="765.84" font-size="8.85" fill="#222">Seed6</text>
<line x1="484" y1="773.58" x2="503.5" y2="773.58" stroke="#6be1e1" stroke-width="0.95" stroke-opacity="0.7"/>
<polygon points="495.58,773.58 492.18,771.69 492.18,775.47" fill="#00cbcc" stroke="#00cbcc" stroke-width="0.5"/>
<text x="506.3" y="776.77" font-size="8.85" fill="#222">Seed7</text>
<line x1="484" y1="784.51" x2="503.5" y2="784.51" stroke="#b49898" stroke-width="0.95" stroke-opacity="0.7"/>
<circle cx="493.6" cy="784.51" r="1.89" fill="#7d4e4e" stroke="#7d4e4e" stroke-width="0.5"/>
<text x="506.3" y="787.7" font-size="8.85" fill="#222">Seed8</text>
<line x1="484" y1="795.44" x2="503.5" y2="795.44" stroke="#bdbd6b" stroke-width="0.95" stroke-opacity="0.7"/>
<polygon points="493.6,793.36 494.1,794.75 495.58,794.8 494.41,795.7 494.82,797.12 493.6,796.29 492.38,797.12 492.79,795.7 491.62,794.8 493.1,794.75" fill="#8e8e00" stroke="#8e8e00" stroke-width="0.5"/>
<text x="506.3" y="798.63" font-size="8.85" fill="#222">Seed9</text>
<line x1="484" y1="806.37" x2="503.5" y2="806.37" stroke="#fda66c" stroke-width="0.95" stroke-opacity="0.7"/>
<polygon points="493.6,804.39 495.49,805.76 494.77,807.98 492.43,807.98 491.71,805.76" fill="#fb6501" stroke="#fb6501" stroke-width="0.5"/>
<text x="506.3" y="809.56" font-size="8.85" fill="#222">Seed10</text>
<line x1="484" y1="817.3" x2="503.5" y2="817.3" stroke="#8ec4ec" stroke-width="0.95" stroke-opacity="0.7"/>
<circle cx="493.6" cy="817.3" r="1.89" fill="#3d9ade" stroke="#3d9ade" stroke-width="0.5"/>
<text x="506.3" y="820.49" font-size="8.85" fill="#222">Seed11</text>
<line x1="484" y1="828.23" x2="503.5" y2="828.23" stroke="#abd66c" stroke-width="0.95" stroke-opacity="0.7"/>
<path d="M491.9 828.23L495.3 828.23M493.6 826.53L493.6 829.93" stroke="#6fb802" stroke-width="1" fill="none"/>
<text x="506.3" y="831.42" font-size="8.85" fill="#222">Seed12</text>
<line x1="484" y1="839.16" x2="503.5" y2="839.16" stroke="#bbbbbb" stroke-width="1.1" stroke-opacity="0.7"/>
<path d="M492.09 837.65L495.11 840.67M492.09 840.67L495.11 837.65" stroke="#8a8a8a" stroke-width="1" fill="none"/>
<text x="506.3" y="842.35" font-size="8.85" fill="#222">Seed13</text>
<line x1="484" y1="850.09" x2="503.5" y2="850.09" stroke="#fcb5ac" stroke-width="1.1" stroke-opacity="0.7"/>
<path d="M491.9 850.09L495.3 850.09M492.58 848.73L494.62 851.45M492.58 851.45L494.62 848.73" stroke="#f98070" stroke-width="0.9" fill="none"/>
<text x="506.3" y="853.28" font-size="8.85" fill="#222">Seed14</text>
<line x1="484" y1="861.02" x2="503.5" y2="861.02" stroke="#96c8f6" stroke-width="1.1" stroke-opacity="1"/>

<text x="506.3" y="864.21" font-size="8.85" fill="#222">Seed15</text>
</svg>
</body></html>
